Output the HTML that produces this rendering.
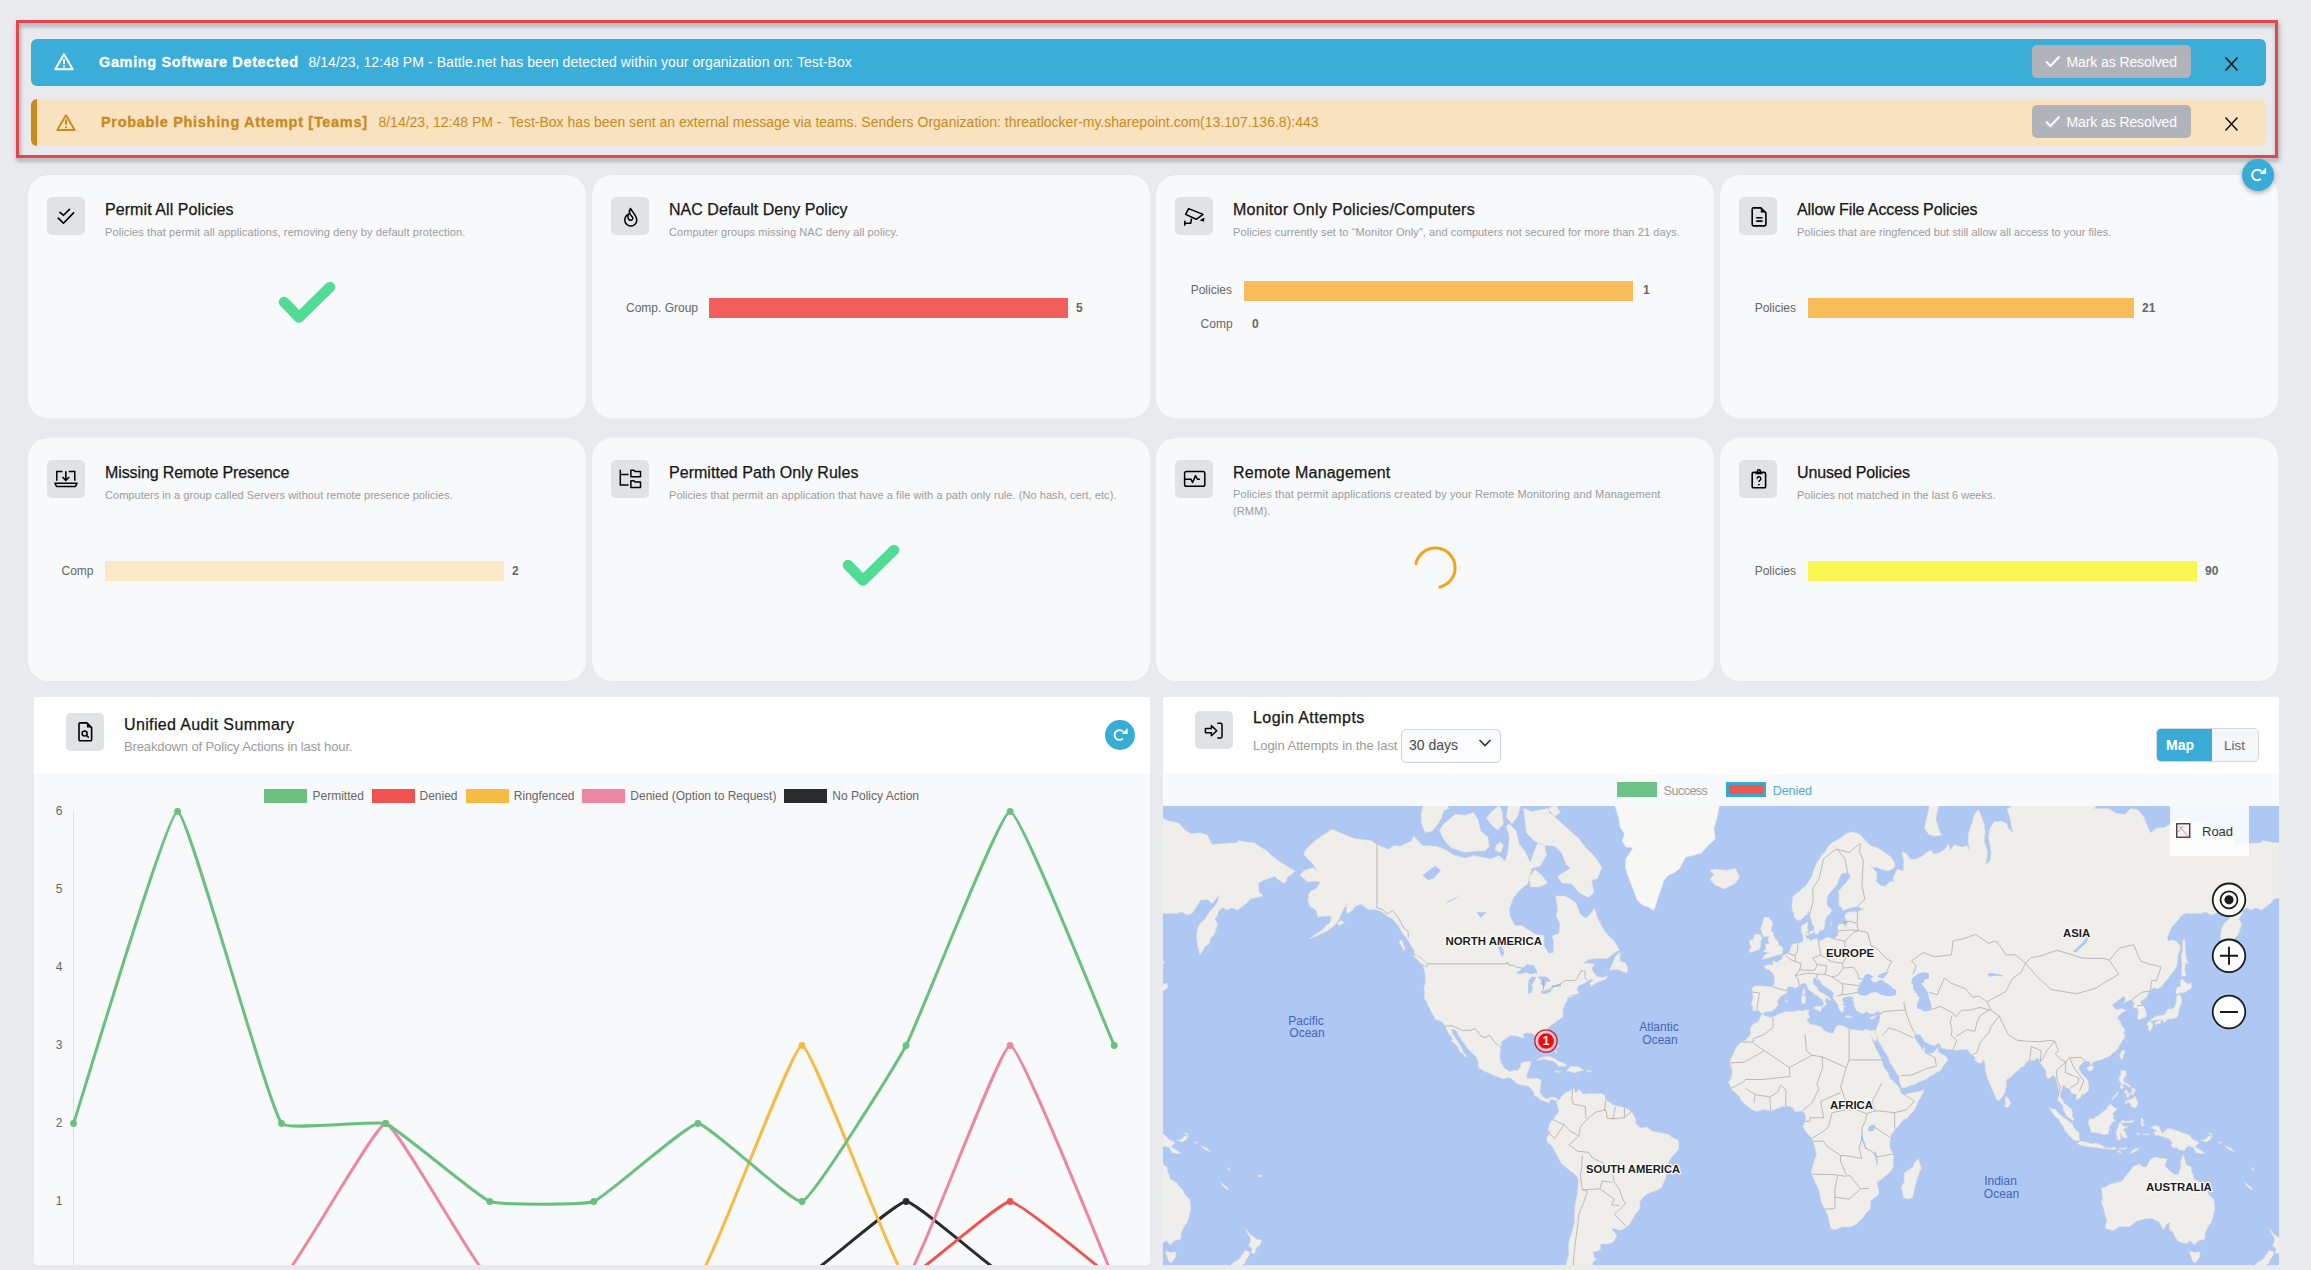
<!DOCTYPE html>
<html><head><meta charset="utf-8"><title>Dashboard</title>
<style>
*{box-sizing:border-box;margin:0;padding:0}
html,body{width:2311px;height:1270px;overflow:hidden;background:#e9eaee;font-family:'Liberation Sans', Arial, Helvetica, sans-serif}
.abs{position:absolute}
.t{position:absolute;white-space:nowrap}
.card{position:absolute;width:558px;height:243px;border-radius:20px;background:#f8f9fb;box-shadow:0 0 1px rgba(0,0,0,.06)}
.ib{position:absolute;width:38px;height:38px;border-radius:5px;background:#e1e2e4}
.btn{position:absolute;left:2032px;width:159px;height:33px;border-radius:5px;background:#b0b3b9;color:#fff}
</style></head><body>
<!-- alerts -->
<div class="abs" style="left:31px;top:39px;width:2235px;height:47px;border-radius:6px;background:#3aadd8"></div>
<div class="abs" style="left:31px;top:99px;width:2235px;height:47px;border-radius:6px;background:#f8e2bf;border-left:6px solid #c88a1d"></div>
<svg class="abs" style="left:52px;top:51px" width="24" height="21" viewBox="0 0 24 21"><path d="M12 3.2L3.3 18.2h17.4z" fill="none" stroke="#fff" stroke-width="2" stroke-linejoin="round"/><path d="M12 8v5.2" stroke="#fff" stroke-width="2"/><circle cx="12" cy="15.6" r="1.1" fill="#fff"/></svg>
<svg class="abs" style="left:54px;top:112px" width="24" height="21" viewBox="0 0 24 21"><path d="M12 3.2L3.3 18h17.4z" fill="none" stroke="#c98a1d" stroke-width="1.9" stroke-linejoin="round"/><path d="M12 7.5v5.2" stroke="#c98a1d" stroke-width="2"/><circle cx="12" cy="15.3" r="1.1" fill="#c98a1d"/></svg>
<div class="t" style="left:99px;top:52.8px;font-size:14.5px;line-height:18px;color:#fff;font-weight:700;letter-spacing:0.63px;-webkit-text-stroke:0.3px #fff;">Gaming Software Detected</div>
<div class="t" style="left:308.4px;top:52.9px;font-size:14px;line-height:18px;color:#fff;font-weight:400;letter-spacing:0.07px;">8/14/23, 12:48 PM - Battle.net has been detected within your organization on: Test-Box</div>
<div class="t" style="left:101px;top:112.5px;font-size:14.5px;line-height:18px;color:#c98a1d;font-weight:700;letter-spacing:0.684px;-webkit-text-stroke:0.3px #c98a1d;">Probable Phishing Attempt [Teams]</div>
<div class="t" style="left:378.4px;top:112.6px;font-size:14px;line-height:18px;color:#c98a1d;font-weight:400;letter-spacing:0.01px;">8/14/23, 12:48 PM -&nbsp; Test-Box has been sent an external message via teams. Senders Organization: threatlocker-my.sharepoint.com(13.107.136.8):443</div>
<div class="btn" style="top:45px"></div>
<div class="btn" style="top:105px"></div>
<svg class="abs" style="left:2044px;top:54px" width="18" height="15"><path d="M2 7.5l4.5 4.5 9-9.5" fill="none" stroke="#fff" stroke-width="2"/></svg>
<svg class="abs" style="left:2044px;top:114px" width="18" height="15"><path d="M2 7.5l4.5 4.5 9-9.5" fill="none" stroke="#fff" stroke-width="2"/></svg>
<div class="t" style="left:2066.5px;top:53.1px;font-size:14px;line-height:18px;color:#fff;font-weight:400;letter-spacing:-0.1px;">Mark as Resolved</div>
<div class="t" style="left:2066.5px;top:113.1px;font-size:14px;line-height:18px;color:#fff;font-weight:400;letter-spacing:-0.1px;">Mark as Resolved</div>
<svg class="abs" style="left:2224px;top:56px" width="15" height="16"><path d="M1.5 1.5l12 13M13.5 1.5l-12 13" stroke="#1a1a1a" stroke-width="1.6"/></svg>
<svg class="abs" style="left:2224px;top:116px" width="15" height="16"><path d="M1.5 1.5l12 13M13.5 1.5l-12 13" stroke="#1a1a1a" stroke-width="1.6"/></svg>
<div class="abs" style="left:16px;top:20px;width:2262px;height:138px;border:3px solid #e5454b;filter:drop-shadow(1px 3px 2px rgba(0,0,0,.35))"></div>

<div class="card" style="left:28px;top:175px"></div>
<div class="ib" style="left:47px;top:197px"><svg width="38" height="38" viewBox="0 0 38 38"><path d="M13 15.3l3.5 3 6-5.9M11.2 21.2l5.2 5 10.2-10.3" fill="none" stroke="#000" stroke-width="1.6" stroke-linecap="round" stroke-linejoin="round"/></svg></div>
<div class="t" style="left:105px;top:199.5px;font-size:16px;line-height:20px;color:#161616;font-weight:400;letter-spacing:0.075px;-webkit-text-stroke:0.25px #161616;">Permit All Policies</div>
<div class="t" style="left:105px;top:224.5px;font-size:11px;line-height:14px;color:#9b9b9b;font-weight:400;letter-spacing:0.118px;">Policies that permit all applications, removing deny by default protection.</div>
<div class="card" style="left:592px;top:175px"></div>
<div class="ib" style="left:611px;top:197px"><svg width="38" height="38" viewBox="0 0 38 38"><path d="M19.5 11.5c-1.3 1.8-1.5 3.7-.6 5.3.8 1.5 2 2.4 2.6 3.4.7 1.2.1 2.8-1.3 3.1-1.6.3-2.8-.9-3.2-2.6-.3-1.3-.1-2.6.4-3.6-2.3 1.3-3.6 3.5-3.6 5.8 0 3.4 2.6 6 6 6s6-2.6 6-6c0-3.6-3-6.3-6.3-11.4z" fill="none" stroke="#000" stroke-width="1.5" stroke-linejoin="round"/></svg></div>
<div class="t" style="left:669px;top:199.5px;font-size:16px;line-height:20px;color:#161616;font-weight:400;letter-spacing:0.03px;-webkit-text-stroke:0.25px #161616;">NAC Default Deny Policy</div>
<div class="t" style="left:669px;top:224.5px;font-size:11px;line-height:14px;color:#9b9b9b;font-weight:400;letter-spacing:0.079px;">Computer groups missing NAC deny all policy.</div>
<div class="card" style="left:1156px;top:175px"></div>
<div class="ib" style="left:1175px;top:197px"><svg width="38" height="38" viewBox="0 0 38 38"><path d="M13.6 11.6L28 17.4L21.3 22.3L10.6 17.4Z" fill="none" stroke="#000" stroke-width="1.5" stroke-linejoin="round"/><path d="M24.6 23.3l4.9-2.9-.6 4.3z" fill="#000"/><path d="M16.6 21.5l-.9 4.7h-5.9M9.8 23.8v5" fill="none" stroke="#000" stroke-width="1.5"/></svg></div>
<div class="t" style="left:1233px;top:199.5px;font-size:16px;line-height:20px;color:#161616;font-weight:400;letter-spacing:0.291px;-webkit-text-stroke:0.25px #161616;">Monitor Only Policies/Computers</div>
<div class="t" style="left:1233px;top:224.5px;font-size:11px;line-height:14px;color:#9b9b9b;font-weight:400;letter-spacing:0.097px;">Policies currently set to “Monitor Only”, and computers not secured for more than 21 days.</div>
<div class="card" style="left:1720px;top:175px"></div>
<div class="ib" style="left:1739px;top:197px"><svg width="38" height="38" viewBox="0 0 38 38"><path d="M14.5 10.9h7.3l5.1 4.9v11.8a1.3 1.3 0 0 1-1.3 1.3h-11.1a1.3 1.3 0 0 1-1.3-1.3v-15.4a1.3 1.3 0 0 1 1.3-1.3z" fill="none" stroke="#000" stroke-width="1.6" stroke-linejoin="round"/><path d="M21.8 10.9v4.7h5.1z" fill="#000"/><path d="M17.2 20.7h6.3M17.2 24.1h6.3" stroke="#000" stroke-width="1.6"/></svg></div>
<div class="t" style="left:1797px;top:199.5px;font-size:16px;line-height:20px;color:#161616;font-weight:400;letter-spacing:-0.107px;-webkit-text-stroke:0.25px #161616;">Allow File Access Policies</div>
<div class="t" style="left:1797px;top:224.5px;font-size:11px;line-height:14px;color:#9b9b9b;font-weight:400;letter-spacing:0.036px;">Policies that are ringfenced but still allow all access to your files.</div>
<div class="card" style="left:28px;top:438px"></div>
<div class="ib" style="left:47px;top:460px"><svg width="38" height="38" viewBox="0 0 38 38"><path d="M15.5 11.5H9.8V20.8M21.8 11.5H27.8V20.8" fill="none" stroke="#000" stroke-width="1.5"/><path d="M18.8 11.3V20M15.4 17l3.4 3.4 3.4-3.4" fill="none" stroke="#000" stroke-width="1.6"/><path d="M7.9 23.2H30.1L28.5 26.4H9.5Z" fill="none" stroke="#000" stroke-width="1.5" stroke-linejoin="round"/></svg></div>
<div class="t" style="left:105px;top:462.5px;font-size:16px;line-height:20px;color:#161616;font-weight:400;letter-spacing:-0.107px;-webkit-text-stroke:0.25px #161616;">Missing Remote Presence</div>
<div class="t" style="left:105px;top:487.5px;font-size:11px;line-height:14px;color:#9b9b9b;font-weight:400;letter-spacing:0.043px;">Computers in a group called Servers without remote presence policies.</div>
<div class="card" style="left:592px;top:438px"></div>
<div class="ib" style="left:611px;top:460px"><svg width="38" height="38" viewBox="0 0 38 38"><path d="M9.3 9.8V25.1H17.6M9.3 14.4H17.6" fill="none" stroke="#000" stroke-width="1.5"/><path d="M19.9 10.2h3l1.2 1.3h5.4v5.3h-9.6z" fill="none" stroke="#000" stroke-width="1.5" stroke-linejoin="round"/><path d="M19.9 20.8h3l1.2 1.3h5.4v5.3h-9.6z" fill="none" stroke="#000" stroke-width="1.5" stroke-linejoin="round"/></svg></div>
<div class="t" style="left:669px;top:462.5px;font-size:16px;line-height:20px;color:#161616;font-weight:400;letter-spacing:0.036px;-webkit-text-stroke:0.25px #161616;">Permitted Path Only Rules</div>
<div class="t" style="left:669px;top:487.5px;font-size:11px;line-height:14px;color:#9b9b9b;font-weight:400;letter-spacing:0.056px;">Policies that permit an application that have a file with a path only rule. (No hash, cert, etc).</div>
<div class="card" style="left:1156px;top:438px"></div>
<div class="ib" style="left:1175px;top:460px"><svg width="38" height="38" viewBox="0 0 38 38"><rect x="9.6" y="11.4" width="20.2" height="14.8" rx="1.8" fill="none" stroke="#000" stroke-width="1.5"/><path d="M9.6 19.2H15.9L17.6 22.5L20.5 15.6L22.4 19.2H24.9" fill="none" stroke="#000" stroke-width="1.5" stroke-linejoin="round"/></svg></div>
<div class="t" style="left:1233px;top:462.5px;font-size:16px;line-height:20px;color:#161616;font-weight:400;letter-spacing:0.215px;-webkit-text-stroke:0.25px #161616;">Remote Management</div>
<div class="t" style="left:1233px;top:486px;font-size:11px;line-height:17px;color:#9b9b9b;letter-spacing:0.121px">Policies that permit applications created by your Remote Monitoring and Management<br>(RMM).</div>
<div class="card" style="left:1720px;top:438px"></div>
<div class="ib" style="left:1739px;top:460px"><svg width="38" height="38" viewBox="0 0 38 38"><rect x="13.2" y="12.4" width="13.4" height="15.4" rx="1.4" fill="none" stroke="#000" stroke-width="1.6"/><path d="M16.5 12.1h6.8v2.2h-6.8z" fill="#000"/><circle cx="19.9" cy="11.3" r="1.6" fill="none" stroke="#000" stroke-width="1.4"/><path d="M18.1 18.7a1.9 1.9 0 1 1 2.7 1.7c-.7.4-.9.8-.9 1.7" fill="none" stroke="#000" stroke-width="1.4"/><circle cx="19.9" cy="24.6" r=".95" fill="#000"/></svg></div>
<div class="t" style="left:1797px;top:462.5px;font-size:16px;line-height:20px;color:#161616;font-weight:400;letter-spacing:-0.124px;-webkit-text-stroke:0.25px #161616;">Unused Policies</div>
<div class="t" style="left:1797px;top:487.5px;font-size:11px;line-height:14px;color:#9b9b9b;font-weight:400;letter-spacing:0.01px;">Policies not matched in the last 6 weeks.</div>
<div class="t" style="right:1613px;top:300.6px;font-size:12px;line-height:15px;color:#666;font-weight:400;text-align:right">Comp. Group</div>
<div class="abs" style="left:709px;top:298px;width:359px;height:20px;background:#f25e5c"></div>
<div class="t" style="left:1076px;top:300.6px;font-size:12px;line-height:15px;color:#666;font-weight:700;">5</div>
<div class="t" style="right:1079px;top:283.4px;font-size:12px;line-height:15px;color:#666;font-weight:400;text-align:right">Policies</div>
<div class="abs" style="left:1243.5px;top:281px;width:389.5px;height:19.5px;background:#f8bd59"></div>
<div class="t" style="left:1643px;top:283.4px;font-size:12px;line-height:15px;color:#666;font-weight:700;">1</div>
<div class="t" style="right:1078.4px;top:316.6px;font-size:12px;line-height:15px;color:#666;font-weight:400;text-align:right">Comp</div>
<div class="t" style="left:1252px;top:316.6px;font-size:12px;line-height:15px;color:#666;font-weight:700;">0</div>
<div class="t" style="right:515px;top:300.6px;font-size:12px;line-height:15px;color:#666;font-weight:400;text-align:right">Policies</div>
<div class="abs" style="left:1807.6px;top:298px;width:326.8000000000002px;height:20px;background:#f8bd59"></div>
<div class="t" style="left:2142px;top:300.6px;font-size:12px;line-height:15px;color:#666;font-weight:700;">21</div>
<div class="t" style="right:2217.5px;top:563.6px;font-size:12px;line-height:15px;color:#666;font-weight:400;text-align:right">Comp</div>
<div class="abs" style="left:104.7px;top:561px;width:399.7px;height:20px;background:#fbe8c6"></div>
<div class="t" style="left:512px;top:563.6px;font-size:12px;line-height:15px;color:#666;font-weight:700;">2</div>
<div class="t" style="right:515px;top:563.6px;font-size:12px;line-height:15px;color:#666;font-weight:400;text-align:right">Policies</div>
<div class="abs" style="left:1807.6px;top:561px;width:389.4000000000001px;height:20px;background:#fbf752"></div>
<div class="t" style="left:2205px;top:563.6px;font-size:12px;line-height:15px;color:#666;font-weight:700;">90</div>
<svg class="abs" style="left:28px;top:175px" width="558" height="243"><path d="M256 127L271 142.5L302 112" fill="none" stroke="#51dc95" stroke-width="10.5" stroke-linecap="round" stroke-linejoin="round"/></svg>
<svg class="abs" style="left:592px;top:438px" width="558" height="243"><path d="M256 127L271 142.5L302 112" fill="none" stroke="#51dc95" stroke-width="10.5" stroke-linecap="round" stroke-linejoin="round"/></svg>
<svg class="abs" style="left:1156px;top:438px" width="558" height="243"><path d="M259.93,125.68A19.8,19.8 0 1 1 283.75,149.09" fill="none" stroke="#f2a51a" stroke-width="3" stroke-linecap="round"/></svg>
<div class="abs" style="left:2242.0px;top:159.0px;width:32px;height:32px;border-radius:50%;background:#39abd7;box-shadow:0 2px 5px rgba(0,0,0,.3);"><svg width="32" height="32" viewBox="-16.50 -16.50 33.00 33.00"><path d="M3.41,-3.61A5.4,5.4 0 1 0 3.08,3.95" fill="none" stroke="#fff" stroke-width="2"/><path d="M1.6 -1.0H8.4V-7.8z" fill="#fff"/></svg></div>

<!-- bottom left panel -->
<div class="abs" style="left:34px;top:697px;width:1116px;height:568px;border-radius:3px;background:#f8f9fb;overflow:hidden">
 <div class="abs" style="left:0;top:0;width:1116px;height:77px;background:#fff"></div>
</div>
<div class="ib" style="left:66px;top:713px"><svg width="38" height="38" viewBox="0 0 38 38"><path d="M14.2 9.9h6.7l4.7 4.6v12.1a1.2 1.2 0 0 1-1.2 1.2h-10.2a1.2 1.2 0 0 1-1.2-1.2v-15.5a1.2 1.2 0 0 1 1.2-1.2z" fill="none" stroke="#000" stroke-width="1.6" stroke-linejoin="round"/><path d="M20.9 9.9v4.6h4.7z" fill="#000"/><circle cx="18.6" cy="20.4" r="2.5" fill="none" stroke="#000" stroke-width="1.5"/><path d="M20.4 22.3l2.4 2.3" stroke="#000" stroke-width="1.5"/></svg></div>
<div class="t" style="left:124px;top:714.5px;font-size:16px;line-height:20px;color:#161616;font-weight:400;letter-spacing:0.363px;-webkit-text-stroke:0.25px #161616;">Unified Audit Summary</div>
<div class="t" style="left:124px;top:738.5px;font-size:13px;line-height:16px;color:#9b9b9b;font-weight:400;letter-spacing:-0.123px;">Breakdown of Policy Actions in last hour.</div>
<div class="abs" style="left:1105.0px;top:720.4px;width:30px;height:30px;border-radius:50%;background:#39abd7;"><svg width="30" height="30" viewBox="-16.50 -16.50 33.00 33.00"><path d="M3.41,-3.61A5.4,5.4 0 1 0 3.08,3.95" fill="none" stroke="#fff" stroke-width="2"/><path d="M1.6 -1.0H8.4V-7.8z" fill="#fff"/></svg></div>
<div class="abs" style="left:264px;top:789px;width:43px;height:14px;background:#6bbf7f"></div>
<div class="t" style="left:312.5px;top:788.8px;font-size:12px;line-height:15px;color:#666;font-weight:400;">Permitted</div>
<div class="abs" style="left:372px;top:789px;width:43px;height:14px;background:#ef5350"></div>
<div class="t" style="left:419.5px;top:788.8px;font-size:12px;line-height:15px;color:#666;font-weight:400;">Denied</div>
<div class="abs" style="left:466px;top:789px;width:43px;height:14px;background:#f6bb42"></div>
<div class="t" style="left:513.8px;top:788.8px;font-size:12px;line-height:15px;color:#666;font-weight:400;">Ringfenced</div>
<div class="abs" style="left:582px;top:789px;width:43px;height:14px;background:#ec87a2"></div>
<div class="t" style="left:630.3px;top:788.8px;font-size:12px;line-height:15px;color:#666;font-weight:400;">Denied (Option to Request)</div>
<div class="abs" style="left:784px;top:789px;width:43px;height:14px;background:#2b2b2b"></div>
<div class="t" style="left:832.3px;top:788.8px;font-size:12px;line-height:15px;color:#666;font-weight:400;">No Policy Action</div>
<div class="t" style="right:2248.5px;top:803.6px;font-size:12px;line-height:15px;color:#666;font-weight:400;text-align:right">6</div>
<div class="t" style="right:2248.5px;top:881.6px;font-size:12px;line-height:15px;color:#666;font-weight:400;text-align:right">5</div>
<div class="t" style="right:2248.5px;top:959.6px;font-size:12px;line-height:15px;color:#666;font-weight:400;text-align:right">4</div>
<div class="t" style="right:2248.5px;top:1037.6px;font-size:12px;line-height:15px;color:#666;font-weight:400;text-align:right">3</div>
<div class="t" style="right:2248.5px;top:1115.6px;font-size:12px;line-height:15px;color:#666;font-weight:400;text-align:right">2</div>
<div class="t" style="right:2248.5px;top:1193.6px;font-size:12px;line-height:15px;color:#666;font-weight:400;text-align:right">1</div>
<svg class="abs" style="left:0;top:0;clip-path:inset(774px 1161px 5px 34px)" width="2311" height="1270">
<path d="M73.5 811.5V1265" stroke="#dedede" stroke-width="1"/>
<path d="M73.5,1279.5 C83.9,1279.5 167.2,1279.5 177.6,1279.5 C188.0,1279.5 271.2,1279.5 281.6,1279.5 C292.0,1279.5 375.3,1279.5 385.7,1279.5 C396.1,1279.5 479.4,1279.5 489.8,1279.5 C500.2,1279.5 583.4,1279.5 593.8,1279.5 C604.3,1279.5 687.5,1279.5 697.9,1279.5 C708.3,1279.5 792.7,1279.5 802.0,1279.5 C813.6,1275.2 895.7,1201.5 906.1,1201.5 C916.5,1201.5 998.6,1275.2 1010.1,1279.5 C1019.4,1279.5 1103.8,1279.5 1114.2,1279.5" fill="none" stroke="#2b2b2b" stroke-width="3"/>
<circle cx="73.5" cy="1279.5" r="3.4" fill="#2b2b2b"/>
<circle cx="177.6" cy="1279.5" r="3.4" fill="#2b2b2b"/>
<circle cx="281.6" cy="1279.5" r="3.4" fill="#2b2b2b"/>
<circle cx="385.7" cy="1279.5" r="3.4" fill="#2b2b2b"/>
<circle cx="489.8" cy="1279.5" r="3.4" fill="#2b2b2b"/>
<circle cx="593.8" cy="1279.5" r="3.4" fill="#2b2b2b"/>
<circle cx="697.9" cy="1279.5" r="3.4" fill="#2b2b2b"/>
<circle cx="802.0" cy="1279.5" r="3.4" fill="#2b2b2b"/>
<circle cx="906.1" cy="1201.5" r="3.4" fill="#2b2b2b"/>
<circle cx="1010.1" cy="1279.5" r="3.4" fill="#2b2b2b"/>
<circle cx="1114.2" cy="1279.5" r="3.4" fill="#2b2b2b"/>
<path d="M73.5,1279.5 C83.9,1279.5 167.2,1279.5 177.6,1279.5 C188.0,1279.5 274.2,1279.5 281.6,1279.5 C295.0,1269.5 375.3,1123.5 385.7,1123.5 C396.1,1123.5 476.4,1269.5 489.8,1279.5 C497.2,1279.5 583.4,1279.5 593.8,1279.5 C604.3,1279.5 687.5,1279.5 697.9,1279.5 C708.3,1279.5 791.6,1279.5 802.0,1279.5 C812.4,1279.5 900.0,1279.5 906.1,1279.5 C920.9,1262.9 999.7,1045.5 1010.1,1045.5 C1020.5,1045.5 1103.8,1256.1 1114.2,1279.5" fill="none" stroke="#ec87a2" stroke-width="3"/>
<circle cx="73.5" cy="1279.5" r="3.4" fill="#ec87a2"/>
<circle cx="177.6" cy="1279.5" r="3.4" fill="#ec87a2"/>
<circle cx="281.6" cy="1279.5" r="3.4" fill="#ec87a2"/>
<circle cx="385.7" cy="1123.5" r="3.4" fill="#ec87a2"/>
<circle cx="489.8" cy="1279.5" r="3.4" fill="#ec87a2"/>
<circle cx="593.8" cy="1279.5" r="3.4" fill="#ec87a2"/>
<circle cx="697.9" cy="1279.5" r="3.4" fill="#ec87a2"/>
<circle cx="802.0" cy="1279.5" r="3.4" fill="#ec87a2"/>
<circle cx="906.1" cy="1279.5" r="3.4" fill="#ec87a2"/>
<circle cx="1010.1" cy="1045.5" r="3.4" fill="#ec87a2"/>
<circle cx="1114.2" cy="1279.5" r="3.4" fill="#ec87a2"/>
<path d="M73.5,1279.5 C83.9,1279.5 167.2,1279.5 177.6,1279.5 C188.0,1279.5 271.2,1279.5 281.6,1279.5 C292.0,1279.5 375.3,1279.5 385.7,1279.5 C396.1,1279.5 479.4,1279.5 489.8,1279.5 C500.2,1279.5 583.4,1279.5 593.8,1279.5 C604.3,1279.5 691.9,1279.5 697.9,1279.5 C712.7,1262.9 791.6,1045.5 802.0,1045.5 C812.4,1045.5 891.3,1262.9 906.1,1279.5 C912.1,1279.5 999.7,1279.5 1010.1,1279.5 C1020.5,1279.5 1103.8,1279.5 1114.2,1279.5" fill="none" stroke="#f6bb42" stroke-width="3"/>
<circle cx="73.5" cy="1279.5" r="3.4" fill="#f6bb42"/>
<circle cx="177.6" cy="1279.5" r="3.4" fill="#f6bb42"/>
<circle cx="281.6" cy="1279.5" r="3.4" fill="#f6bb42"/>
<circle cx="385.7" cy="1279.5" r="3.4" fill="#f6bb42"/>
<circle cx="489.8" cy="1279.5" r="3.4" fill="#f6bb42"/>
<circle cx="593.8" cy="1279.5" r="3.4" fill="#f6bb42"/>
<circle cx="697.9" cy="1279.5" r="3.4" fill="#f6bb42"/>
<circle cx="802.0" cy="1045.5" r="3.4" fill="#f6bb42"/>
<circle cx="906.1" cy="1279.5" r="3.4" fill="#f6bb42"/>
<circle cx="1010.1" cy="1279.5" r="3.4" fill="#f6bb42"/>
<circle cx="1114.2" cy="1279.5" r="3.4" fill="#f6bb42"/>
<path d="M73.5,1279.5 C83.9,1279.5 167.2,1279.5 177.6,1279.5 C188.0,1279.5 271.2,1279.5 281.6,1279.5 C292.0,1279.5 375.3,1279.5 385.7,1279.5 C396.1,1279.5 479.4,1279.5 489.8,1279.5 C500.2,1279.5 583.4,1279.5 593.8,1279.5 C604.3,1279.5 687.5,1279.5 697.9,1279.5 C708.3,1279.5 791.6,1279.5 802.0,1279.5 C812.4,1279.5 896.8,1279.5 906.1,1279.5 C917.6,1275.2 999.7,1201.5 1010.1,1201.5 C1020.5,1201.5 1103.8,1271.7 1114.2,1279.5" fill="none" stroke="#ef5350" stroke-width="3"/>
<circle cx="73.5" cy="1279.5" r="3.4" fill="#ef5350"/>
<circle cx="177.6" cy="1279.5" r="3.4" fill="#ef5350"/>
<circle cx="281.6" cy="1279.5" r="3.4" fill="#ef5350"/>
<circle cx="385.7" cy="1279.5" r="3.4" fill="#ef5350"/>
<circle cx="489.8" cy="1279.5" r="3.4" fill="#ef5350"/>
<circle cx="593.8" cy="1279.5" r="3.4" fill="#ef5350"/>
<circle cx="697.9" cy="1279.5" r="3.4" fill="#ef5350"/>
<circle cx="802.0" cy="1279.5" r="3.4" fill="#ef5350"/>
<circle cx="906.1" cy="1279.5" r="3.4" fill="#ef5350"/>
<circle cx="1010.1" cy="1201.5" r="3.4" fill="#ef5350"/>
<circle cx="1114.2" cy="1279.5" r="3.4" fill="#ef5350"/>
<path d="M73.5,1123.5 C83.9,1092.3 167.2,811.5 177.6,811.5 C188.0,811.5 265.8,1099.8 281.6,1123.5 C286.6,1131.0 376.5,1120.0 385.7,1123.5 C397.3,1127.8 478.2,1197.2 489.8,1201.5 C499.0,1205.0 584.6,1205.0 593.8,1201.5 C605.4,1197.2 687.5,1123.5 697.9,1123.5 C708.3,1123.5 793.5,1204.7 802.0,1201.5 C814.3,1196.9 897.3,1062.0 906.1,1045.5 C918.1,1023.0 999.7,811.5 1010.1,811.5 C1020.5,811.5 1103.8,1022.1 1114.2,1045.5" fill="none" stroke="#6bbf7f" stroke-width="3"/>
<circle cx="73.5" cy="1123.5" r="3.4" fill="#6bbf7f"/>
<circle cx="177.6" cy="811.5" r="3.4" fill="#6bbf7f"/>
<circle cx="281.6" cy="1123.5" r="3.4" fill="#6bbf7f"/>
<circle cx="385.7" cy="1123.5" r="3.4" fill="#6bbf7f"/>
<circle cx="489.8" cy="1201.5" r="3.4" fill="#6bbf7f"/>
<circle cx="593.8" cy="1201.5" r="3.4" fill="#6bbf7f"/>
<circle cx="697.9" cy="1123.5" r="3.4" fill="#6bbf7f"/>
<circle cx="802.0" cy="1201.5" r="3.4" fill="#6bbf7f"/>
<circle cx="906.1" cy="1045.5" r="3.4" fill="#6bbf7f"/>
<circle cx="1010.1" cy="811.5" r="3.4" fill="#6bbf7f"/>
<circle cx="1114.2" cy="1045.5" r="3.4" fill="#6bbf7f"/>
</svg>

<!-- bottom right panel -->
<div class="abs" style="left:1163px;top:697px;width:1116px;height:568px;border-radius:3px;background:#f8f9fb;overflow:hidden">
 <div class="abs" style="left:0;top:0;width:1116px;height:77px;background:#fff"></div>
</div>
<div class="ib" style="left:1195px;top:711px"><svg width="38" height="38" viewBox="0 0 38 38"><path d="M10.4 17.6h6v-3l5.4 5.1-5.4 5.1v-3h-6z" fill="none" stroke="#000" stroke-width="1.5" stroke-linejoin="round"/><path d="M22.4 12.3h3a1.6 1.6 0 0 1 1.6 1.6v11.6a1.6 1.6 0 0 1-1.6 1.6h-3" fill="none" stroke="#000" stroke-width="1.5"/></svg></div>
<div class="t" style="left:1253px;top:707.5px;font-size:16px;line-height:20px;color:#161616;font-weight:400;letter-spacing:0.42px;-webkit-text-stroke:0.25px #161616;">Login Attempts</div>
<div class="t" style="left:1253px;top:737.5px;font-size:13px;line-height:16px;color:#9b9b9b;font-weight:400;letter-spacing:-0.031px;">Login Attempts in the last</div>
<div class="abs" style="left:1401px;top:729px;width:100px;height:34px;border:1px solid #cfd2d6;border-radius:5px;background:#fafbfc"></div>
<div class="t" style="left:1409px;top:736.1px;font-size:14px;line-height:18px;color:#4a4a4a;font-weight:400;">30 days</div>
<svg class="abs" style="left:1478px;top:738px" width="14" height="10"><path d="M1.5 2l5.5 5.5 5.5-5.5" fill="none" stroke="#333" stroke-width="1.6"/></svg>
<div class="abs" style="left:2156px;top:728px;width:103px;height:34px;border:1px solid #d5d7db;border-radius:5px;background:#f5f6f8;overflow:hidden">
 <div class="abs" style="left:-1px;top:-1px;width:56px;height:34px;background:#3aabd7"></div>
</div>
<div class="t" style="left:2166px;top:736.1px;font-size:14px;line-height:18px;color:#fff;font-weight:700;">Map</div>
<div class="t" style="left:2224px;top:736.8px;font-size:13.5px;line-height:17px;color:#666;font-weight:400;">List</div>
<div class="abs" style="left:1617px;top:782px;width:40px;height:15px;background:#6cc287"></div>
<div class="t" style="left:1663.6px;top:782.6px;font-size:12.6px;line-height:16px;color:#9a9a9a;font-weight:400;letter-spacing:-0.55px;">Success</div>
<div class="abs" style="left:1726px;top:782px;width:40px;height:15px;background:#f05650;border:3px solid #3aa7d5"></div>
<div class="t" style="left:1772.7px;top:782.6px;font-size:12.6px;line-height:16px;color:#56a8d6;font-weight:400;letter-spacing:-0.1px;">Denied</div>
<div class="abs" style="left:1163px;top:806px;width:1116px;height:459px;overflow:hidden;background:#aec7f3">
<svg width="1116" height="459" style="display:block;font-family:'Liberation Sans', Arial, Helvetica, sans-serif">
<path d="M136.8,68.5L141.4,64.3L149.9,61.5L154.2,65.0L149.1,57.1L140.5,48.5L142.3,44.2L151.4,35.3L154.5,32.8L169.0,23.2L181.2,28.5L192.6,32.8L208.2,34.4L213.9,38.6L225.3,43.4L231.0,39.4L236.7,40.2L248.1,35.3L250.9,30.2L259.4,39.4L273.7,40.2L282.2,43.4L290.7,48.9L302.1,51.9L310.6,49.6L319.2,51.2L327.7,52.7L336.2,49.6L341.9,54.9L344.8,47.3L346.2,31.1L343.4,19.6L346.2,17.8L353.3,25.0L356.2,37.7L361.8,45.0L367.5,56.4L370.4,47.3L374.6,36.9L381.8,39.4L383.5,48.9L377.5,60.0L369.0,62.2L364.7,77.9L357.0,83.7L350.5,91.7L346.2,103.5L347.1,110.2L351.9,119.3L359.0,119.8L367.5,125.0L373.2,128.5L380.9,129.5L381.2,140.1L386.0,147.6L390.3,146.6L390.6,134.9L388.9,130.0L396.0,127.5L396.8,117.2L393.1,110.2L394.6,103.5L392.6,89.9L401.7,89.9L407.4,92.9L413.0,97.1L417.3,108.0L423.0,112.4L428.7,106.3L431.5,101.8L434.4,111.8L440.1,122.4L444.3,128.5L451.4,134.9L456.6,143.9L451.4,147.1L444.3,152.5L433.0,152.5L425.8,153.4L420.2,157.3L427.3,157.3L432.1,158.6L428.7,162.1L430.7,166.3L434.4,170.4L440.1,171.6L444.3,169.6L444.9,170.8L441.5,173.7L434.4,176.1L427.8,180.4L426.7,176.9L431.5,173.2L425.8,174.1L423.0,176.5L418.7,178.4L415.3,180.0L413.9,183.5L415.9,187.0L414.5,188.1L411.6,188.5L407.4,189.6L404.5,191.5L404.2,194.9L402.0,197.8L401.4,200.0L399.7,204.0L400.2,211.0L397.4,212.7L393.4,215.5L389.7,217.9L387.7,219.6L384.3,222.6L383.5,227.6L385.7,233.8L387.4,239.2L387.2,242.1L386.3,244.0L384.3,244.3L382.3,241.2L380.0,236.7L379.8,235.4L379.5,232.2L376.9,228.9L374.6,228.6L372.1,229.6L369.0,227.3L364.7,227.3L364.4,226.6L360.4,227.9L361.0,231.5L361.3,231.8L357.6,231.5L353.3,229.9L348.2,229.6L345.3,230.9L344.8,231.2L340.5,234.1L338.2,236.4L338.0,241.5L337.1,246.2L336.8,252.4L338.2,257.0L341.1,262.1L341.6,262.4L344.8,264.2L346.2,265.6L351.9,264.2L354.7,264.5L357.6,260.6L357.9,257.0L361.8,255.8L366.1,255.5L368.1,255.5L367.5,259.1L365.5,264.5L364.1,267.5L363.8,272.0L366.1,272.6L370.9,272.3L375.5,272.6L378.3,274.9L377.5,279.3L377.2,283.7L376.9,286.6L378.9,289.5L381.2,291.8L384.6,293.0L387.7,291.2L391.7,291.2L394.8,293.3L396.0,294.4L395.1,295.6L392.6,294.4L392.0,295.3L388.9,292.7L386.3,295.3L386.3,297.3L383.2,295.8L380.3,294.7L377.2,293.8L374.4,290.7L371.2,289.8L370.9,286.6L367.5,282.3L365.8,280.2L360.4,279.3L355.0,278.2L352.5,276.4L348.2,272.3L345.6,271.4L344.2,271.7L340.5,272.9L336.2,271.4L330.8,269.6L326.3,267.2L320.6,265.1L316.6,262.4L314.3,258.8L315.8,258.2L315.2,255.5L312.4,250.2L308.1,245.9L304.1,242.1L300.7,236.7L299.6,235.4L295.9,230.2L293.3,224.6L289.0,222.9L288.5,222.6L289.3,226.9L292.2,231.8L295.0,235.7L297.8,240.2L300.7,246.8L301.3,247.1L303.5,250.2L302.4,251.2L299.8,247.7L296.1,245.2L295.6,241.5L290.2,236.0L287.9,235.1L289.9,232.8L285.6,227.6L283.1,222.6L281.9,220.3L281.6,219.6L279.9,216.5L278.2,215.5L275.9,214.5L272.2,213.6L270.8,210.0L268.3,206.1L266.6,202.9L266.6,201.8L265.1,200.0L262.9,194.5L261.2,192.3L261.7,186.2L260.9,183.1L262.3,176.1L262.3,169.2L260.3,160.4L265.1,161.2L264.6,157.8L260.9,154.3L258.0,151.2L252.3,148.9L250.9,144.3L246.6,137.3L243.8,132.5L239.5,127.5L235.3,119.8L229.6,112.9L223.9,110.2L218.2,105.2L212.5,103.5L205.7,103.5L198.3,98.3L192.6,100.0L189.8,104.0L184.1,108.0L183.2,100.6L186.9,96.5L181.2,101.8L178.4,108.0L175.5,114.5L169.8,120.9L164.2,125.0L158.5,127.5L152.8,130.5L146.2,132.9L151.4,129.0L157.0,125.5L162.7,120.3L167.0,116.7L168.4,110.2L164.2,110.2L159.9,110.2L154.8,111.3L153.3,104.6L147.1,100.6L144.8,94.7L145.7,88.1L147.1,85.6L153.3,82.4L157.0,76.6L157.0,75.9L151.4,75.3L144.5,75.9L140.8,72.6ZM-887.2,68.5L-882.6,64.3L-874.1,61.5L-869.8,65.0L-874.9,57.1L-883.5,48.5L-881.7,44.2L-872.6,35.3L-869.5,32.8L-855.0,23.2L-842.8,28.5L-831.4,32.8L-815.8,34.4L-810.1,38.6L-798.7,43.4L-793.0,39.4L-787.3,40.2L-775.9,35.3L-773.1,30.2L-764.6,39.4L-750.3,40.2L-741.8,43.4L-733.3,48.9L-721.9,51.9L-713.4,49.6L-704.8,51.2L-696.3,52.7L-687.8,49.6L-682.1,54.9L-679.2,47.3L-677.8,31.1L-680.6,19.6L-677.8,17.8L-670.7,25.0L-667.8,37.7L-662.2,45.0L-656.5,56.4L-653.6,47.3L-649.4,36.9L-642.2,39.4L-640.5,48.9L-646.5,60.0L-655.0,62.2L-659.3,77.9L-667.0,83.7L-673.5,91.7L-677.8,103.5L-676.9,110.2L-672.1,119.3L-665.0,119.8L-656.5,125.0L-650.8,128.5L-643.1,129.5L-642.8,140.1L-638.0,147.6L-633.7,146.6L-633.4,134.9L-635.1,130.0L-628.0,127.5L-627.2,117.2L-630.9,110.2L-629.4,103.5L-631.4,89.9L-622.3,89.9L-616.6,92.9L-611.0,97.1L-606.7,108.0L-601.0,112.4L-595.3,106.3L-592.5,101.8L-589.6,111.8L-583.9,122.4L-579.7,128.5L-572.6,134.9L-567.4,143.9L-572.6,147.1L-579.7,152.5L-591.0,152.5L-598.2,153.4L-603.8,157.3L-596.7,157.3L-591.9,158.6L-595.3,162.1L-593.3,166.3L-589.6,170.4L-583.9,171.6L-579.7,169.6L-579.1,170.8L-582.5,173.7L-589.6,176.1L-596.2,180.4L-597.3,176.9L-592.5,173.2L-598.2,174.1L-601.0,176.5L-605.3,178.4L-608.7,180.0L-610.1,183.5L-608.1,187.0L-609.5,188.1L-612.4,188.5L-616.6,189.6L-619.5,191.5L-619.8,194.9L-622.0,197.8L-622.6,200.0L-624.3,204.0L-623.8,211.0L-626.6,212.7L-630.6,215.5L-634.3,217.9L-636.3,219.6L-639.7,222.6L-640.5,227.6L-638.3,233.8L-636.6,239.2L-636.8,242.1L-637.7,244.0L-639.7,244.3L-641.7,241.2L-644.0,236.7L-644.2,235.4L-644.5,232.2L-647.1,228.9L-649.4,228.6L-651.9,229.6L-655.0,227.3L-659.3,227.3L-659.6,226.6L-663.6,227.9L-663.0,231.5L-662.7,231.8L-666.4,231.5L-670.7,229.9L-675.8,229.6L-678.7,230.9L-679.2,231.2L-683.5,234.1L-685.8,236.4L-686.0,241.5L-686.9,246.2L-687.2,252.4L-685.8,257.0L-682.9,262.1L-682.4,262.4L-679.2,264.2L-677.8,265.6L-672.1,264.2L-669.3,264.5L-666.4,260.6L-666.1,257.0L-662.2,255.8L-657.9,255.5L-655.9,255.5L-656.5,259.1L-658.5,264.5L-659.9,267.5L-660.2,272.0L-657.9,272.6L-653.1,272.3L-648.5,272.6L-645.7,274.9L-646.5,279.3L-646.8,283.7L-647.1,286.6L-645.1,289.5L-642.8,291.8L-639.4,293.0L-636.3,291.2L-632.3,291.2L-629.2,293.3L-628.0,294.4L-628.9,295.6L-631.4,294.4L-632.0,295.3L-635.1,292.7L-637.7,295.3L-637.7,297.3L-640.8,295.8L-643.7,294.7L-646.8,293.8L-649.6,290.7L-652.8,289.8L-653.1,286.6L-656.5,282.3L-658.2,280.2L-663.6,279.3L-669.0,278.2L-671.5,276.4L-675.8,272.3L-678.4,271.4L-679.8,271.7L-683.5,272.9L-687.8,271.4L-693.2,269.6L-697.7,267.2L-703.4,265.1L-707.4,262.4L-709.7,258.8L-708.2,258.2L-708.8,255.5L-711.6,250.2L-715.9,245.9L-719.9,242.1L-723.3,236.7L-724.4,235.4L-728.1,230.2L-730.7,224.6L-735.0,222.9L-735.5,222.6L-734.7,226.9L-731.8,231.8L-729.0,235.7L-726.2,240.2L-723.3,246.8L-722.7,247.1L-720.5,250.2L-721.6,251.2L-724.2,247.7L-727.9,245.2L-728.4,241.5L-733.8,236.0L-736.1,235.1L-734.1,232.8L-738.4,227.6L-740.9,222.6L-742.1,220.3L-742.4,219.6L-744.1,216.5L-745.8,215.5L-748.1,214.5L-751.8,213.6L-753.2,210.0L-755.7,206.1L-757.4,202.9L-757.4,201.8L-758.9,200.0L-761.1,194.5L-762.8,192.3L-762.3,186.2L-763.1,183.1L-761.7,176.1L-761.7,169.2L-763.7,160.4L-758.9,161.2L-759.4,157.8L-763.1,154.3L-766.0,151.2L-771.7,148.9L-773.1,144.3L-777.4,137.3L-780.2,132.5L-784.5,127.5L-788.7,119.8L-794.4,112.9L-800.1,110.2L-805.8,105.2L-811.5,103.5L-818.3,103.5L-825.7,98.3L-831.4,100.0L-834.2,104.0L-839.9,108.0L-840.8,100.6L-837.1,96.5L-842.8,101.8L-845.6,108.0L-848.5,114.5L-854.2,120.9L-859.8,125.0L-865.5,127.5L-871.2,130.5L-877.8,132.9L-872.6,129.0L-867.0,125.5L-861.3,120.3L-857.0,116.7L-855.6,110.2L-859.8,110.2L-864.1,110.2L-869.2,111.3L-870.7,104.6L-876.9,100.6L-879.2,94.7L-878.3,88.1L-876.9,85.6L-870.7,82.4L-867.0,76.6L-867.0,75.9L-872.6,75.3L-879.5,75.9L-883.2,72.6ZM1160.8,68.5L1165.4,64.3L1173.9,61.5L1178.2,65.0L1173.1,57.1L1164.5,48.5L1166.3,44.2L1175.4,35.3L1178.5,32.8L1193.0,23.2L1205.2,28.5L1216.6,32.8L1232.2,34.4L1237.9,38.6L1249.3,43.4L1255.0,39.4L1260.7,40.2L1272.1,35.3L1274.9,30.2L1283.4,39.4L1297.7,40.2L1306.2,43.4L1314.7,48.9L1326.1,51.9L1334.6,49.6L1343.2,51.2L1351.7,52.7L1360.2,49.6L1365.9,54.9L1368.8,47.3L1370.2,31.1L1367.4,19.6L1370.2,17.8L1377.3,25.0L1380.2,37.7L1385.8,45.0L1391.5,56.4L1394.4,47.3L1398.6,36.9L1405.8,39.4L1407.5,48.9L1401.5,60.0L1393.0,62.2L1388.7,77.9L1381.0,83.7L1374.5,91.7L1370.2,103.5L1371.1,110.2L1375.9,119.3L1383.0,119.8L1391.5,125.0L1397.2,128.5L1404.9,129.5L1405.2,140.1L1410.0,147.6L1414.3,146.6L1414.6,134.9L1412.9,130.0L1420.0,127.5L1420.8,117.2L1417.1,110.2L1418.6,103.5L1416.6,89.9L1425.7,89.9L1431.4,92.9L1437.0,97.1L1441.3,108.0L1447.0,112.4L1452.7,106.3L1455.5,101.8L1458.4,111.8L1464.1,122.4L1468.3,128.5L1475.4,134.9L1480.6,143.9L1475.4,147.1L1468.3,152.5L1457.0,152.5L1449.8,153.4L1444.2,157.3L1451.3,157.3L1456.1,158.6L1452.7,162.1L1454.7,166.3L1458.4,170.4L1464.1,171.6L1468.3,169.6L1468.9,170.8L1465.5,173.7L1458.4,176.1L1451.8,180.4L1450.7,176.9L1455.5,173.2L1449.8,174.1L1447.0,176.5L1442.7,178.4L1439.3,180.0L1437.9,183.5L1439.9,187.0L1438.5,188.1L1435.6,188.5L1431.4,189.6L1428.5,191.5L1428.2,194.9L1426.0,197.8L1425.4,200.0L1423.7,204.0L1424.2,211.0L1421.4,212.7L1417.4,215.5L1413.7,217.9L1411.7,219.6L1408.3,222.6L1407.5,227.6L1409.7,233.8L1411.4,239.2L1411.2,242.1L1410.3,244.0L1408.3,244.3L1406.3,241.2L1404.0,236.7L1403.8,235.4L1403.5,232.2L1400.9,228.9L1398.6,228.6L1396.1,229.6L1393.0,227.3L1388.7,227.3L1388.4,226.6L1384.4,227.9L1385.0,231.5L1385.3,231.8L1381.6,231.5L1377.3,229.9L1372.2,229.6L1369.3,230.9L1368.8,231.2L1364.5,234.1L1362.2,236.4L1362.0,241.5L1361.1,246.2L1360.8,252.4L1362.2,257.0L1365.1,262.1L1365.6,262.4L1368.8,264.2L1370.2,265.6L1375.9,264.2L1378.7,264.5L1381.6,260.6L1381.9,257.0L1385.8,255.8L1390.1,255.5L1392.1,255.5L1391.5,259.1L1389.5,264.5L1388.1,267.5L1387.8,272.0L1390.1,272.6L1394.9,272.3L1399.5,272.6L1402.3,274.9L1401.5,279.3L1401.2,283.7L1400.9,286.6L1402.9,289.5L1405.2,291.8L1408.6,293.0L1411.7,291.2L1415.7,291.2L1418.8,293.3L1420.0,294.4L1419.1,295.6L1416.6,294.4L1416.0,295.3L1412.9,292.7L1410.3,295.3L1410.3,297.3L1407.2,295.8L1404.3,294.7L1401.2,293.8L1398.4,290.7L1395.2,289.8L1394.9,286.6L1391.5,282.3L1389.8,280.2L1384.4,279.3L1379.0,278.2L1376.5,276.4L1372.2,272.3L1369.6,271.4L1368.2,271.7L1364.5,272.9L1360.2,271.4L1354.8,269.6L1350.3,267.2L1344.6,265.1L1340.6,262.4L1338.3,258.8L1339.8,258.2L1339.2,255.5L1336.4,250.2L1332.1,245.9L1328.1,242.1L1324.7,236.7L1323.6,235.4L1319.9,230.2L1317.3,224.6L1313.0,222.9L1312.5,222.6L1313.3,226.9L1316.2,231.8L1319.0,235.7L1321.8,240.2L1324.7,246.8L1325.3,247.1L1327.5,250.2L1326.4,251.2L1323.8,247.7L1320.1,245.2L1319.6,241.5L1314.2,236.0L1311.9,235.1L1313.9,232.8L1309.6,227.6L1307.1,222.6L1305.9,220.3L1305.6,219.6L1303.9,216.5L1302.2,215.5L1299.9,214.5L1296.2,213.6L1294.8,210.0L1292.3,206.1L1290.6,202.9L1290.6,201.8L1289.1,200.0L1286.9,194.5L1285.2,192.3L1285.7,186.2L1284.9,183.1L1286.3,176.1L1286.3,169.2L1284.3,160.4L1289.1,161.2L1288.6,157.8L1284.9,154.3L1282.0,151.2L1276.3,148.9L1274.9,144.3L1270.6,137.3L1267.8,132.5L1263.5,127.5L1259.3,119.8L1253.6,112.9L1247.9,110.2L1242.2,105.2L1236.5,103.5L1229.7,103.5L1222.3,98.3L1216.6,100.0L1213.8,104.0L1208.1,108.0L1207.2,100.6L1210.9,96.5L1205.2,101.8L1202.4,108.0L1199.5,114.5L1193.8,120.9L1188.2,125.0L1182.5,127.5L1176.8,130.5L1170.2,132.9L1175.4,129.0L1181.0,125.5L1186.7,120.3L1191.0,116.7L1192.4,110.2L1188.2,110.2L1183.9,110.2L1178.8,111.3L1177.3,104.6L1171.1,100.6L1168.8,94.7L1169.7,88.1L1171.1,85.6L1177.3,82.4L1181.0,76.6L1181.0,75.9L1175.4,75.3L1168.5,75.9L1164.8,72.6ZM395.1,293.8L396.5,293.5L400.2,288.4L403.9,286.0L409.6,284.0L410.8,282.6L412.5,286.6L415.3,284.9L415.9,283.1L420.2,288.1L424.7,287.8L433.0,287.5L438.6,287.5L441.5,289.5L442.9,293.8L448.6,297.6L449.5,298.7L458.6,301.0L465.7,303.3L466.2,304.1L469.9,307.3L472.8,313.0L472.8,318.1L477.0,320.9L477.0,322.1L484.2,320.9L489.0,325.2L497.0,326.4L504.1,328.1L505.5,328.6L509.8,331.8L514.9,333.8L516.0,338.3L515.4,343.8L513.5,345.8L509.8,349.6L505.5,355.4L504.1,361.3L503.5,369.3L501.2,375.3L500.4,377.1L498.4,382.3L492.1,385.0L488.4,386.3L483.3,388.5L478.5,393.2L476.8,396.3L477.0,402.7L472.8,407.6L469.9,412.6L465.7,419.3L462.8,421.4L458.8,424.1L455.1,424.1L450.6,422.4L448.9,423.1L451.4,426.2L453.7,429.0L451.4,435.1L447.2,437.7L438.6,438.0L437.8,438.0L437.2,444.3L430.1,446.2L431.5,451.9L434.1,452.7L430.1,455.8L428.7,461.7L423.0,467.9L427.8,473.3L420.7,483.3L418.7,490.0L420.4,493.2L415.9,496.5L411.6,500.3L403.1,491.9L400.2,474.1L403.1,457.8L404.5,453.8L405.9,448.1L405.4,438.7L406.8,431.5L407.4,430.8L410.2,421.0L411.3,417.6L411.6,407.6L412.2,397.9L414.5,387.2L415.3,376.8L415.0,371.7L411.6,368.1L404.5,362.7L398.3,357.4L395.7,352.6L391.7,345.2L388.6,339.5L383.7,335.2L383.7,331.5L386.6,327.8L387.4,325.2L384.9,324.4L386.0,319.5L387.4,315.8L390.6,313.8L391.7,311.0L395.1,306.7L395.7,307.0L394.8,299.6L393.1,297.3L393.4,296.7ZM-628.9,293.8L-627.5,293.5L-623.8,288.4L-620.1,286.0L-614.4,284.0L-613.2,282.6L-611.5,286.6L-608.7,284.9L-608.1,283.1L-603.8,288.1L-599.3,287.8L-591.0,287.5L-585.4,287.5L-582.5,289.5L-581.1,293.8L-575.4,297.6L-574.5,298.7L-565.4,301.0L-558.3,303.3L-557.8,304.1L-554.1,307.3L-551.2,313.0L-551.2,318.1L-547.0,320.9L-547.0,322.1L-539.8,320.9L-535.0,325.2L-527.0,326.4L-519.9,328.1L-518.5,328.6L-514.2,331.8L-509.1,333.8L-508.0,338.3L-508.6,343.8L-510.5,345.8L-514.2,349.6L-518.5,355.4L-519.9,361.3L-520.5,369.3L-522.8,375.3L-523.6,377.1L-525.6,382.3L-531.9,385.0L-535.6,386.3L-540.7,388.5L-545.5,393.2L-547.2,396.3L-547.0,402.7L-551.2,407.6L-554.1,412.6L-558.3,419.3L-561.2,421.4L-565.2,424.1L-568.9,424.1L-573.4,422.4L-575.1,423.1L-572.6,426.2L-570.3,429.0L-572.6,435.1L-576.8,437.7L-585.4,438.0L-586.2,438.0L-586.8,444.3L-593.9,446.2L-592.5,451.9L-589.9,452.7L-593.9,455.8L-595.3,461.7L-601.0,467.9L-596.2,473.3L-603.3,483.3L-605.3,490.0L-603.6,493.2L-608.1,496.5L-612.4,500.3L-620.9,491.9L-623.8,474.1L-620.9,457.8L-619.5,453.8L-618.1,448.1L-618.6,438.7L-617.2,431.5L-616.6,430.8L-613.8,421.0L-612.7,417.6L-612.4,407.6L-611.8,397.9L-609.5,387.2L-608.7,376.8L-609.0,371.7L-612.4,368.1L-619.5,362.7L-625.7,357.4L-628.3,352.6L-632.3,345.2L-635.4,339.5L-640.3,335.2L-640.3,331.5L-637.4,327.8L-636.6,325.2L-639.1,324.4L-638.0,319.5L-636.6,315.8L-633.4,313.8L-632.3,311.0L-628.9,306.7L-628.3,307.0L-629.2,299.6L-630.9,297.3L-630.6,296.7ZM1419.1,293.8L1420.5,293.5L1424.2,288.4L1427.9,286.0L1433.6,284.0L1434.8,282.6L1436.5,286.6L1439.3,284.9L1439.9,283.1L1444.2,288.1L1448.7,287.8L1457.0,287.5L1462.6,287.5L1465.5,289.5L1466.9,293.8L1472.6,297.6L1473.5,298.7L1482.6,301.0L1489.7,303.3L1490.2,304.1L1493.9,307.3L1496.8,313.0L1496.8,318.1L1501.0,320.9L1501.0,322.1L1508.2,320.9L1513.0,325.2L1521.0,326.4L1528.1,328.1L1529.5,328.6L1533.8,331.8L1538.9,333.8L1540.0,338.3L1539.4,343.8L1537.5,345.8L1533.8,349.6L1529.5,355.4L1528.1,361.3L1527.5,369.3L1525.2,375.3L1524.4,377.1L1522.4,382.3L1516.1,385.0L1512.4,386.3L1507.3,388.5L1502.5,393.2L1500.8,396.3L1501.0,402.7L1496.8,407.6L1493.9,412.6L1489.7,419.3L1486.8,421.4L1482.8,424.1L1479.1,424.1L1474.6,422.4L1472.9,423.1L1475.4,426.2L1477.7,429.0L1475.4,435.1L1471.2,437.7L1462.6,438.0L1461.8,438.0L1461.2,444.3L1454.1,446.2L1455.5,451.9L1458.1,452.7L1454.1,455.8L1452.7,461.7L1447.0,467.9L1451.8,473.3L1444.7,483.3L1442.7,490.0L1444.4,493.2L1439.9,496.5L1435.6,500.3L1427.1,491.9L1424.2,474.1L1427.1,457.8L1428.5,453.8L1429.9,448.1L1429.4,438.7L1430.8,431.5L1431.4,430.8L1434.2,421.0L1435.3,417.6L1435.6,407.6L1436.2,397.9L1438.5,387.2L1439.3,376.8L1439.0,371.7L1435.6,368.1L1428.5,362.7L1422.3,357.4L1419.7,352.6L1415.7,345.2L1412.6,339.5L1407.7,335.2L1407.7,331.5L1410.6,327.8L1411.4,325.2L1408.9,324.4L1410.0,319.5L1411.4,315.8L1414.6,313.8L1415.7,311.0L1419.1,306.7L1419.7,307.0L1418.8,299.6L1417.1,297.3L1417.4,296.7ZM598.2,208.9L595.7,215.2L593.4,216.5L590.8,217.5L588.5,220.3L587.1,223.6L587.7,227.3L586.0,230.5L582.3,234.4L578.0,236.0L573.8,240.8L569.8,248.7L568.1,252.7L566.6,257.0L568.6,261.5L569.5,265.7L568.1,272.0L566.6,274.9L565.2,275.8L567.2,279.3L567.5,282.8L570.9,285.2L573.8,288.1L577.2,291.0L577.5,293.8L579.4,295.8L582.3,298.4L584.3,300.1L589.4,303.9L593.7,305.6L600.8,303.6L609.0,304.7L614.4,302.4L619.6,300.4L624.7,299.9L629.2,301.3L632.1,305.9L634.9,305.6L639.2,305.0L641.5,307.0L642.9,311.0L642.0,315.3L641.7,317.0L639.7,320.1L643.4,326.6L648.6,331.8L650.0,335.2L652.5,343.2L653.4,349.0L650.6,356.9L648.6,364.2L648.3,368.1L650.6,372.6L656.2,385.0L658.2,396.3L661.9,403.1L664.8,409.3L666.2,415.9L667.3,420.7L667.6,422.4L671.9,423.8L679.0,421.0L687.8,421.0L693.2,418.3L700.3,411.6L703.2,407.0L707.4,402.7L707.7,394.7L716.0,388.5L715.4,382.3L714.0,376.2L718.8,372.9L727.4,365.7L730.2,361.3L730.5,349.6L726.8,340.9L726.8,337.5L727.6,330.9L727.9,329.8L731.6,323.8L735.9,319.5L740.2,313.8L743.9,312.4L747.3,308.1L751.5,303.9L756.4,293.0L759.5,288.4L760.9,284.3L754.4,285.7L745.8,287.5L740.2,288.4L737.9,285.2L736.7,282.3L733.0,277.9L728.8,273.5L727.4,273.2L724.5,266.0L720.8,261.2L718.8,253.9L716.0,248.1L713.1,243.0L710.6,237.3L707.7,228.9L710.3,234.1L712.6,235.7L713.7,233.5L714.3,230.2L712.3,224.3L706.9,224.6L703.2,223.3L700.0,224.6L693.2,223.9L686.7,223.3L683.3,221.6L680.7,219.9L679.0,219.2L674.7,219.2L672.2,221.6L670.5,226.9L667.6,227.3L660.5,224.3L658.5,220.9L652.5,218.9L647.7,218.2L644.9,216.2L643.7,213.8L645.4,212.7L646.6,211.0L645.2,206.8L646.6,204.3L644.0,204.0L643.2,203.6L639.5,205.0L635.5,204.3L630.6,205.7L623.5,205.4L619.3,206.4L613.3,209.3L608.7,211.4L605.0,211.0L599.9,208.6ZM-425.8,208.9L-428.3,215.2L-430.6,216.5L-433.2,217.5L-435.5,220.3L-436.9,223.6L-436.3,227.3L-438.0,230.5L-441.7,234.4L-446.0,236.0L-450.2,240.8L-454.2,248.7L-455.9,252.7L-457.4,257.0L-455.4,261.5L-454.5,265.7L-455.9,272.0L-457.4,274.9L-458.8,275.8L-456.8,279.3L-456.5,282.8L-453.1,285.2L-450.2,288.1L-446.8,291.0L-446.5,293.8L-444.6,295.8L-441.7,298.4L-439.7,300.1L-434.6,303.9L-430.3,305.6L-423.2,303.6L-415.0,304.7L-409.6,302.4L-404.4,300.4L-399.3,299.9L-394.8,301.3L-391.9,305.9L-389.1,305.6L-384.8,305.0L-382.5,307.0L-381.1,311.0L-382.0,315.3L-382.3,317.0L-384.3,320.1L-380.6,326.6L-375.4,331.8L-374.0,335.2L-371.5,343.2L-370.6,349.0L-373.4,356.9L-375.4,364.2L-375.7,368.1L-373.4,372.6L-367.8,385.0L-365.8,396.3L-362.1,403.1L-359.2,409.3L-357.8,415.9L-356.7,420.7L-356.4,422.4L-352.1,423.8L-345.0,421.0L-336.2,421.0L-330.8,418.3L-323.7,411.6L-320.8,407.0L-316.6,402.7L-316.3,394.7L-308.0,388.5L-308.6,382.3L-310.0,376.2L-305.2,372.9L-296.6,365.7L-293.8,361.3L-293.5,349.6L-297.2,340.9L-297.2,337.5L-296.4,330.9L-296.1,329.8L-292.4,323.8L-288.1,319.5L-283.8,313.8L-280.1,312.4L-276.7,308.1L-272.5,303.9L-267.6,293.0L-264.5,288.4L-263.1,284.3L-269.6,285.7L-278.2,287.5L-283.8,288.4L-286.1,285.2L-287.3,282.3L-291.0,277.9L-295.2,273.5L-296.6,273.2L-299.5,266.0L-303.2,261.2L-305.2,253.9L-308.0,248.1L-310.9,243.0L-313.4,237.3L-316.3,228.9L-313.7,234.1L-311.4,235.7L-310.3,233.5L-309.7,230.2L-311.7,224.3L-317.1,224.6L-320.8,223.3L-324.0,224.6L-330.8,223.9L-337.3,223.3L-340.7,221.6L-343.3,219.9L-345.0,219.2L-349.3,219.2L-351.8,221.6L-353.5,226.9L-356.4,227.3L-363.5,224.3L-365.5,220.9L-371.5,218.9L-376.3,218.2L-379.1,216.2L-380.3,213.8L-378.6,212.7L-377.4,211.0L-378.8,206.8L-377.4,204.3L-380.0,204.0L-380.8,203.6L-384.5,205.0L-388.5,204.3L-393.4,205.7L-400.5,205.4L-404.7,206.4L-410.7,209.3L-415.3,211.4L-419.0,211.0L-424.1,208.6ZM1622.2,208.9L1619.7,215.2L1617.4,216.5L1614.8,217.5L1612.5,220.3L1611.1,223.6L1611.7,227.3L1610.0,230.5L1606.3,234.4L1602.0,236.0L1597.8,240.8L1593.8,248.7L1592.1,252.7L1590.6,257.0L1592.6,261.5L1593.5,265.7L1592.1,272.0L1590.6,274.9L1589.2,275.8L1591.2,279.3L1591.5,282.8L1594.9,285.2L1597.8,288.1L1601.2,291.0L1601.5,293.8L1603.4,295.8L1606.3,298.4L1608.3,300.1L1613.4,303.9L1617.7,305.6L1624.8,303.6L1633.0,304.7L1638.4,302.4L1643.6,300.4L1648.7,299.9L1653.2,301.3L1656.1,305.9L1658.9,305.6L1663.2,305.0L1665.5,307.0L1666.9,311.0L1666.0,315.3L1665.7,317.0L1663.7,320.1L1667.4,326.6L1672.6,331.8L1674.0,335.2L1676.5,343.2L1677.4,349.0L1674.6,356.9L1672.6,364.2L1672.3,368.1L1674.6,372.6L1680.2,385.0L1682.2,396.3L1685.9,403.1L1688.8,409.3L1690.2,415.9L1691.3,420.7L1691.6,422.4L1695.9,423.8L1703.0,421.0L1711.8,421.0L1717.2,418.3L1724.3,411.6L1727.2,407.0L1731.4,402.7L1731.7,394.7L1740.0,388.5L1739.4,382.3L1738.0,376.2L1742.8,372.9L1751.4,365.7L1754.2,361.3L1754.5,349.6L1750.8,340.9L1750.8,337.5L1751.6,330.9L1751.9,329.8L1755.6,323.8L1759.9,319.5L1764.2,313.8L1767.9,312.4L1771.3,308.1L1775.5,303.9L1780.4,293.0L1783.5,288.4L1784.9,284.3L1778.4,285.7L1769.8,287.5L1764.2,288.4L1761.9,285.2L1760.7,282.3L1757.0,277.9L1752.8,273.5L1751.4,273.2L1748.5,266.0L1744.8,261.2L1742.8,253.9L1740.0,248.1L1737.1,243.0L1734.6,237.3L1731.7,228.9L1734.3,234.1L1736.6,235.7L1737.7,233.5L1738.3,230.2L1736.3,224.3L1730.9,224.6L1727.2,223.3L1724.0,224.6L1717.2,223.9L1710.7,223.3L1707.3,221.6L1704.7,219.9L1703.0,219.2L1698.7,219.2L1696.2,221.6L1694.5,226.9L1691.6,227.3L1684.5,224.3L1682.5,220.9L1676.5,218.9L1671.7,218.2L1668.9,216.2L1667.7,213.8L1669.4,212.7L1670.6,211.0L1669.2,206.8L1670.6,204.3L1668.0,204.0L1667.2,203.6L1663.5,205.0L1659.5,204.3L1654.6,205.7L1647.5,205.4L1643.3,206.4L1637.3,209.3L1632.7,211.4L1629.0,211.0L1623.9,208.6ZM599.1,208.2L597.1,206.1L595.1,204.0L592.5,204.7L589.7,204.7L590.0,201.1L588.8,198.5L588.0,198.2L589.4,195.2L590.0,191.2L589.7,187.0L589.7,183.9L588.5,182.4L591.7,180.0L595.1,180.0L599.4,180.0L604.2,180.6L609.9,180.8L611.3,176.9L611.6,171.2L609.0,166.3L606.5,164.2L602.5,162.9L601.3,160.4L603.6,159.1L606.5,158.6L610.4,159.1L609.6,154.7L611.3,155.1L614.4,156.5L615.6,154.7L619.0,152.9L619.6,149.4L622.1,148.5L625.2,147.1L626.9,144.8L628.4,140.1L630.1,137.8L634.3,137.3L637.8,136.8L639.7,135.4L640.3,133.4L639.5,128.0L638.0,125.0L638.3,120.3L639.5,119.3L643.4,116.7L645.2,116.1L644.6,119.8L644.3,122.4L646.0,123.4L644.0,126.0L642.9,130.0L643.7,132.5L646.0,132.9L647.7,134.9L650.6,132.9L653.7,132.5L655.4,135.4L659.1,133.9L663.4,131.5L667.3,131.0L668.2,132.9L670.8,132.7L673.3,130.5L675.3,129.0L675.0,125.0L674.7,120.9L676.4,117.7L679.3,115.9L681.3,119.8L683.6,119.8L684.4,115.1L682.1,112.4L681.8,109.1L685.0,106.3L690.4,105.7L694.6,106.3L697.5,104.0L701.2,103.8L698.1,102.3L694.6,100.6L690.4,101.2L686.1,102.3L681.8,103.8L680.1,104.6L678.4,101.2L675.9,99.4L675.9,94.7L676.2,89.3L675.3,85.6L678.4,81.8L682.7,77.2L685.5,73.3L687.2,71.2L687.0,68.5L684.7,67.1L680.4,67.1L678.1,68.5L675.6,73.3L674.7,77.2L672.7,80.5L669.6,83.7L667.1,86.8L664.8,89.9L663.9,94.7L664.2,99.4L667.6,102.3L668.8,104.6L667.1,107.4L663.9,110.2L662.2,115.1L661.9,119.8L660.8,123.4L659.1,124.2L656.2,125.0L655.4,128.0L652.0,128.0L651.7,126.0L650.8,123.9L651.4,121.9L649.1,117.7L648.6,114.5L647.1,110.2L646.6,108.5L645.2,104.6L645.4,104.0L644.0,109.1L642.0,109.6L639.2,112.9L636.3,114.5L633.8,114.0L630.9,110.7L630.6,107.4L629.2,103.5L628.9,98.9L629.2,94.7L629.8,90.5L632.6,88.1L636.3,85.6L639.2,82.4L642.9,79.8L645.7,75.3L649.1,69.9L650.6,64.3L653.4,57.1L657.1,51.9L659.1,48.1L661.9,46.5L664.8,41.0L668.5,36.9L673.3,34.4L677.6,31.9L683.3,27.6L688.4,25.9L693.2,26.7L696.9,28.5L700.3,31.9L703.2,35.3L704.6,36.9L708.9,40.2L714.6,41.8L721.7,46.5L728.2,51.2L731.6,56.4L732.2,60.0L728.8,63.6L724.5,65.0L718.8,63.6L714.0,61.5L710.3,61.5L707.4,58.6L711.1,63.6L714.0,67.1L713.4,75.3L717.4,79.2L721.7,80.5L727.4,75.3L730.2,75.3L730.2,71.2L734.5,62.9L740.2,65.0L740.7,54.2L738.4,45.8L743.0,47.3L747.3,52.7L751.5,53.4L757.2,51.2L762.9,47.3L767.2,44.2L771.4,48.1L777.1,46.5L781.4,43.4L785.7,37.7L787.1,44.2L791.4,38.6L798.5,41.0L804.2,39.4L807.0,45.0L805.0,35.3L805.6,26.7L809.3,15.9L811.3,8.3L815.5,3.4L818.4,10.3L821.2,17.8L822.1,26.7L821.2,35.3L824.1,43.4L824.1,51.2L822.6,58.6L826.9,54.9L828.3,47.3L826.9,39.4L825.5,31.1L826.9,22.3L831.2,15.9L838.3,15.0L844.0,17.8L845.4,22.3L849.7,26.7L846.8,11.2L844.0,3.4L851.1,-1.7L861.0,-6.9L863.9,-14.6L873.8,-21.4L885.2,-23.7L899.4,-29.7L911.7,-45.0L916.5,-38.4L920.8,-29.7L930.7,-30.9L937.8,-17.9L936.4,-1.7L930.7,2.4L937.8,2.4L945.0,2.4L953.5,7.3L962.0,8.3L967.7,2.4L974.8,3.4L980.5,10.3L983.4,17.8L987.6,26.7L993.3,22.3L1001.8,21.4L1010.4,15.9L1014.6,13.1L1021.8,11.2L1030.3,15.0L1040.2,16.9L1045.9,24.1L1051.6,27.6L1061.6,26.7L1068.7,29.3L1073.0,38.6L1081.5,37.7L1091.4,36.9L1097.1,36.9L1100.0,34.4L1107.1,36.1L1115.6,36.9L1121.3,41.0L1127.0,44.2L1132.7,49.6L1139.8,54.9L1145.5,58.6L1149.8,61.5L1156.3,65.0L1152.6,68.5L1148.3,71.2L1146.9,75.9L1144.1,77.2L1139.8,73.9L1135.5,70.6L1129.8,72.6L1124.2,74.6L1119.9,76.6L1119.9,85.6L1124.2,89.9L1117.0,91.7L1111.4,92.9L1107.1,97.7L1101.4,101.8L1098.6,104.0L1092.9,101.8L1087.7,104.0L1084.3,101.8L1080.1,104.0L1078.6,109.1L1075.8,113.4L1078.6,117.2L1077.2,123.4L1075.2,128.5L1071.5,132.5L1069.5,138.7L1065.8,140.6L1064.4,144.3L1060.7,148.9L1060.2,145.3L1058.7,139.7L1057.6,132.5L1057.9,125.0L1060.2,118.8L1063.0,115.6L1065.8,113.4L1070.1,106.3L1074.4,101.8L1078.6,95.9L1080.1,88.7L1073.0,97.7L1068.7,93.5L1061.6,94.1L1055.9,103.5L1053.0,107.4L1047.4,109.1L1043.1,105.7L1037.4,107.4L1030.3,107.4L1023.2,107.4L1018.9,109.1L1014.6,114.5L1009.0,120.9L1004.7,130.0L1004.7,134.9L1009.8,133.9L1014.1,135.9L1017.2,139.7L1016.9,144.3L1014.9,148.9L1014.6,155.6L1013.8,160.4L1010.4,165.4L1006.1,171.2L1001.8,176.5L999.0,180.0L994.7,183.1L990.5,181.6L988.5,183.9L986.8,185.1L984.8,188.1L983.9,190.8L980.5,193.8L977.7,195.2L977.7,197.5L980.2,199.3L981.9,202.5L983.1,206.1L983.4,209.6L982.5,211.2L980.5,212.1L977.7,213.1L975.1,213.8L974.3,212.4L974.8,208.9L975.7,206.4L974.8,204.3L975.1,202.2L972.0,202.2L970.0,200.7L971.4,197.5L970.0,195.2L968.3,194.1L964.9,194.9L962.0,196.4L960.0,197.8L961.5,195.6L962.6,192.6L960.6,190.4L957.8,192.6L954.9,194.5L952.1,197.1L950.1,197.8L949.5,200.0L951.5,201.8L953.5,204.0L957.2,202.5L960.6,202.9L963.4,204.7L959.7,206.1L957.8,207.9L954.9,210.7L954.6,212.7L957.2,215.2L958.9,220.3L961.5,222.6L961.7,225.6L960.0,227.3L962.0,228.9L961.7,231.8L959.7,234.1L957.8,237.3L955.8,239.9L954.9,243.0L952.9,244.9L950.6,246.5L947.8,249.0L945.0,251.2L942.1,251.8L939.8,253.0L937.3,253.9L933.6,254.8L930.2,256.1L928.5,258.2L929.3,259.4L927.3,259.1L927.0,255.5L923.6,255.2L920.8,255.8L918.5,258.2L916.5,260.3L915.7,263.0L917.9,266.0L919.6,268.7L923.1,272.0L924.8,274.3L925.9,279.0L925.6,283.7L924.5,285.7L921.6,287.8L918.5,288.9L917.9,291.0L915.1,293.3L913.1,293.5L913.1,291.0L913.4,288.6L911.7,288.1L909.4,287.8L908.0,285.7L906.8,283.4L904.6,282.0L902.0,281.4L902.0,279.3L899.7,279.6L899.2,282.6L897.2,287.2L897.5,291.0L900.0,294.4L900.9,297.3L903.1,298.4L905.7,300.4L908.3,303.0L909.4,306.1L909.1,309.8L911.4,313.5L909.4,314.4L907.4,312.7L903.4,310.1L902.0,307.3L900.3,303.9L900.0,300.1L898.6,298.1L896.0,295.6L894.6,294.7L895.2,291.0L895.5,288.1L895.7,284.3L894.6,279.3L893.2,274.9L892.3,270.8L890.3,269.3L888.1,270.8L886.4,272.6L884.1,272.0L883.2,269.0L882.9,264.8L881.2,262.1L879.5,260.0L877.8,257.9L876.7,255.5L876.1,252.7L873.8,252.1L872.4,253.6L870.4,254.5L868.2,254.8L865.6,254.8L863.3,256.1L862.2,258.2L860.8,260.3L857.6,261.8L855.4,264.2L852.8,266.3L849.7,269.0L848.8,270.5L846.3,272.0L843.7,273.5L843.1,277.0L843.4,280.5L842.3,283.7L842.0,286.6L840.6,288.6L839.4,291.0L837.7,292.7L835.4,295.0L833.5,293.3L832.0,290.1L830.6,286.0L828.9,282.8L827.5,279.3L826.3,276.4L824.9,273.2L823.8,269.6L822.6,266.0L822.1,263.0L822.1,259.1L821.5,256.1L820.4,253.3L819.2,256.4L816.7,257.6L813.5,255.8L811.3,253.0L813.5,251.5L811.8,251.5L809.6,249.3L807.3,248.1L805.6,245.2L804.2,243.4L799.9,243.7L795.6,244.0L791.4,244.3L789.9,244.0L787.1,243.4L784.2,243.4L781.4,242.7L778.6,242.1L777.7,239.9L776.6,238.0L774.6,237.6L772.9,239.2L770.0,239.6L767.2,238.6L764.3,237.0L761.5,235.4L759.5,232.5L758.1,230.2L756.7,228.2L754.4,228.6L753.0,228.9L751.5,229.2L751.2,231.2L752.7,233.5L754.4,236.0L756.1,238.6L757.8,240.5L758.9,243.0L759.5,245.2L760.1,241.5L761.5,241.2L761.8,244.0L761.5,245.9L764.3,247.1L767.2,247.4L770.0,246.8L772.9,243.7L774.3,241.5L775.4,240.5L775.1,242.7L775.4,245.2L776.8,247.1L779.4,248.7L781.7,249.0L784.0,251.8L785.1,252.7L783.7,255.8L781.7,258.5L779.4,260.6L779.1,263.3L776.0,265.1L772.9,266.9L770.3,269.0L767.2,269.9L763.5,272.9L760.1,274.6L755.8,276.1L753.0,277.9L748.7,279.3L744.4,280.8L741.6,281.7L738.7,281.7L737.9,279.9L736.7,276.4L736.5,273.5L736.2,270.5L733.9,267.5L731.6,264.2L729.6,260.6L727.4,257.6L726.2,254.8L725.4,251.8L723.9,248.7L721.7,246.2L720.5,243.7L718.8,240.8L716.8,237.3L715.1,234.8L714.3,230.2L712.3,224.3L713.4,222.6L714.6,219.2L716.0,215.5L717.1,212.1L716.8,208.9L718.0,206.1L716.0,206.1L713.7,205.4L711.7,207.2L708.9,207.9L706.9,207.5L703.2,205.4L701.8,206.4L700.6,207.5L698.3,207.2L695.5,205.7L693.2,204.7L692.4,202.2L690.7,200.0L691.2,198.2L690.4,195.6L689.5,193.8L690.9,192.3L689.0,190.8L686.1,190.4L683.3,190.8L680.1,191.5L679.3,193.8L680.1,196.4L681.3,197.5L679.6,198.2L681.0,200.0L683.3,200.7L680.4,201.4L681.0,203.6L679.9,206.4L678.7,206.4L677.3,205.0L676.4,202.9L675.0,201.4L675.9,200.0L674.4,198.5L673.9,197.1L672.2,195.2L670.2,192.6L670.2,190.0L670.5,187.0L668.8,185.1L667.6,184.3L664.8,182.4L661.9,180.4L660.2,179.6L658.2,177.7L657.4,175.3L655.7,173.2L653.7,174.5L654.0,172.0L652.3,171.6L650.3,172.8L650.0,175.3L650.3,177.7L652.0,179.2L653.7,180.4L654.8,183.5L656.8,185.8L659.1,186.6L660.8,187.8L663.1,189.3L665.9,191.2L667.6,193.0L667.1,194.5L664.2,192.3L663.1,192.3L662.2,193.8L662.2,196.0L663.6,197.8L662.2,199.3L660.8,201.1L659.7,201.3L659.7,200.0L660.8,197.8L659.7,195.2L659.4,193.4L657.7,193.0L656.2,191.5L655.1,190.8L654.0,189.3L652.0,188.9L650.6,187.4L648.6,185.8L646.6,184.7L644.9,182.8L644.3,180.4L642.9,178.1L640.6,176.9L638.9,177.7L636.9,179.2L634.9,180.4L633.8,181.6L632.1,182.0L630.1,181.2L628.1,180.8L626.4,180.4L624.1,181.6L623.5,183.5L624.1,185.1L624.1,186.6L621.3,188.5L617.8,190.0L617.0,191.2L615.0,194.1L614.1,196.0L615.6,198.2L613.9,200.0L613.0,202.5L611.3,202.9L609.6,205.0L608.2,205.4L605.3,205.7L602.5,205.7L600.8,206.4L599.9,207.9ZM-424.9,208.2L-426.9,206.1L-428.9,204.0L-431.5,204.7L-434.3,204.7L-434.0,201.1L-435.2,198.5L-436.0,198.2L-434.6,195.2L-434.0,191.2L-434.3,187.0L-434.3,183.9L-435.5,182.4L-432.3,180.0L-428.9,180.0L-424.6,180.0L-419.8,180.6L-414.1,180.8L-412.7,176.9L-412.4,171.2L-415.0,166.3L-417.5,164.2L-421.5,162.9L-422.7,160.4L-420.4,159.1L-417.5,158.6L-413.6,159.1L-414.4,154.7L-412.7,155.1L-409.6,156.5L-408.4,154.7L-405.0,152.9L-404.4,149.4L-401.9,148.5L-398.8,147.1L-397.1,144.8L-395.6,140.1L-393.9,137.8L-389.7,137.3L-386.2,136.8L-384.3,135.4L-383.7,133.4L-384.5,128.0L-386.0,125.0L-385.7,120.3L-384.5,119.3L-380.6,116.7L-378.8,116.1L-379.4,119.8L-379.7,122.4L-378.0,123.4L-380.0,126.0L-381.1,130.0L-380.3,132.5L-378.0,132.9L-376.3,134.9L-373.4,132.9L-370.3,132.5L-368.6,135.4L-364.9,133.9L-360.6,131.5L-356.7,131.0L-355.8,132.9L-353.2,132.7L-350.7,130.5L-348.7,129.0L-349.0,125.0L-349.3,120.9L-347.6,117.7L-344.7,115.9L-342.7,119.8L-340.4,119.8L-339.6,115.1L-341.9,112.4L-342.2,109.1L-339.0,106.3L-333.6,105.7L-329.4,106.3L-326.5,104.0L-322.8,103.8L-325.9,102.3L-329.4,100.6L-333.6,101.2L-337.9,102.3L-342.2,103.8L-343.9,104.6L-345.6,101.2L-348.1,99.4L-348.1,94.7L-347.8,89.3L-348.7,85.6L-345.6,81.8L-341.3,77.2L-338.5,73.3L-336.8,71.2L-337.0,68.5L-339.3,67.1L-343.6,67.1L-345.9,68.5L-348.4,73.3L-349.3,77.2L-351.3,80.5L-354.4,83.7L-356.9,86.8L-359.2,89.9L-360.1,94.7L-359.8,99.4L-356.4,102.3L-355.2,104.6L-356.9,107.4L-360.1,110.2L-361.8,115.1L-362.1,119.8L-363.2,123.4L-364.9,124.2L-367.8,125.0L-368.6,128.0L-372.0,128.0L-372.3,126.0L-373.2,123.9L-372.6,121.9L-374.9,117.7L-375.4,114.5L-376.9,110.2L-377.4,108.5L-378.8,104.6L-378.6,104.0L-380.0,109.1L-382.0,109.6L-384.8,112.9L-387.7,114.5L-390.2,114.0L-393.1,110.7L-393.4,107.4L-394.8,103.5L-395.1,98.9L-394.8,94.7L-394.2,90.5L-391.4,88.1L-387.7,85.6L-384.8,82.4L-381.1,79.8L-378.3,75.3L-374.9,69.9L-373.4,64.3L-370.6,57.1L-366.9,51.9L-364.9,48.1L-362.1,46.5L-359.2,41.0L-355.5,36.9L-350.7,34.4L-346.4,31.9L-340.7,27.6L-335.6,25.9L-330.8,26.7L-327.1,28.5L-323.7,31.9L-320.8,35.3L-319.4,36.9L-315.1,40.2L-309.4,41.8L-302.3,46.5L-295.8,51.2L-292.4,56.4L-291.8,60.0L-295.2,63.6L-299.5,65.0L-305.2,63.6L-310.0,61.5L-313.7,61.5L-316.6,58.6L-312.9,63.6L-310.0,67.1L-310.6,75.3L-306.6,79.2L-302.3,80.5L-296.6,75.3L-293.8,75.3L-293.8,71.2L-289.5,62.9L-283.8,65.0L-283.3,54.2L-285.6,45.8L-281.0,47.3L-276.7,52.7L-272.5,53.4L-266.8,51.2L-261.1,47.3L-256.8,44.2L-252.6,48.1L-246.9,46.5L-242.6,43.4L-238.3,37.7L-236.9,44.2L-232.6,38.6L-225.5,41.0L-219.8,39.4L-217.0,45.0L-219.0,35.3L-218.4,26.7L-214.7,15.9L-212.7,8.3L-208.5,3.4L-205.6,10.3L-202.8,17.8L-201.9,26.7L-202.8,35.3L-199.9,43.4L-199.9,51.2L-201.4,58.6L-197.1,54.9L-195.7,47.3L-197.1,39.4L-198.5,31.1L-197.1,22.3L-192.8,15.9L-185.7,15.0L-180.0,17.8L-178.6,22.3L-174.3,26.7L-177.2,11.2L-180.0,3.4L-172.9,-1.7L-163.0,-6.9L-160.1,-14.6L-150.2,-21.4L-138.8,-23.7L-124.6,-29.7L-112.3,-45.0L-107.5,-38.4L-103.2,-29.7L-93.3,-30.9L-86.2,-17.9L-87.6,-1.7L-93.3,2.4L-86.2,2.4L-79.0,2.4L-70.5,7.3L-62.0,8.3L-56.3,2.4L-49.2,3.4L-43.5,10.3L-40.6,17.8L-36.4,26.7L-30.7,22.3L-22.2,21.4L-13.6,15.9L-9.4,13.1L-2.2,11.2L6.3,15.0L16.2,16.9L21.9,24.1L27.6,27.6L37.6,26.7L44.7,29.3L49.0,38.6L57.5,37.7L67.4,36.9L73.1,36.9L76.0,34.4L83.1,36.1L91.6,36.9L97.3,41.0L103.0,44.2L108.7,49.6L115.8,54.9L121.5,58.6L125.8,61.5L132.3,65.0L128.6,68.5L124.3,71.2L122.9,75.9L120.1,77.2L115.8,73.9L111.5,70.6L105.8,72.6L100.2,74.6L95.9,76.6L95.9,85.6L100.2,89.9L93.0,91.7L87.4,92.9L83.1,97.7L77.4,101.8L74.6,104.0L68.9,101.8L63.7,104.0L60.3,101.8L56.1,104.0L54.6,109.1L51.8,113.4L54.6,117.2L53.2,123.4L51.2,128.5L47.5,132.5L45.5,138.7L41.8,140.6L40.4,144.3L36.7,148.9L36.2,145.3L34.7,139.7L33.6,132.5L33.9,125.0L36.2,118.8L39.0,115.6L41.8,113.4L46.1,106.3L50.4,101.8L54.6,95.9L56.1,88.7L49.0,97.7L44.7,93.5L37.6,94.1L31.9,103.5L29.0,107.4L23.4,109.1L19.1,105.7L13.4,107.4L6.3,107.4L-0.8,107.4L-5.1,109.1L-9.4,114.5L-15.0,120.9L-19.3,130.0L-19.3,134.9L-14.2,133.9L-9.9,135.9L-6.8,139.7L-7.1,144.3L-9.1,148.9L-9.4,155.6L-10.2,160.4L-13.6,165.4L-17.9,171.2L-22.2,176.5L-25.0,180.0L-29.3,183.1L-33.5,181.6L-35.5,183.9L-37.2,185.1L-39.2,188.1L-40.1,190.8L-43.5,193.8L-46.3,195.2L-46.3,197.5L-43.8,199.3L-42.1,202.5L-40.9,206.1L-40.6,209.6L-41.5,211.2L-43.5,212.1L-46.3,213.1L-48.9,213.8L-49.7,212.4L-49.2,208.9L-48.3,206.4L-49.2,204.3L-48.9,202.2L-52.0,202.2L-54.0,200.7L-52.6,197.5L-54.0,195.2L-55.7,194.1L-59.1,194.9L-62.0,196.4L-64.0,197.8L-62.5,195.6L-61.4,192.6L-63.4,190.4L-66.2,192.6L-69.1,194.5L-71.9,197.1L-73.9,197.8L-74.5,200.0L-72.5,201.8L-70.5,204.0L-66.8,202.5L-63.4,202.9L-60.6,204.7L-64.3,206.1L-66.2,207.9L-69.1,210.7L-69.4,212.7L-66.8,215.2L-65.1,220.3L-62.5,222.6L-62.3,225.6L-64.0,227.3L-62.0,228.9L-62.3,231.8L-64.3,234.1L-66.2,237.3L-68.2,239.9L-69.1,243.0L-71.1,244.9L-73.4,246.5L-76.2,249.0L-79.0,251.2L-81.9,251.8L-84.2,253.0L-86.7,253.9L-90.4,254.8L-93.8,256.1L-95.5,258.2L-94.7,259.4L-96.7,259.1L-97.0,255.5L-100.4,255.2L-103.2,255.8L-105.5,258.2L-107.5,260.3L-108.3,263.0L-106.1,266.0L-104.4,268.7L-100.9,272.0L-99.2,274.3L-98.1,279.0L-98.4,283.7L-99.5,285.7L-102.4,287.8L-105.5,288.9L-106.1,291.0L-108.9,293.3L-110.9,293.5L-110.9,291.0L-110.6,288.6L-112.3,288.1L-114.6,287.8L-116.0,285.7L-117.2,283.4L-119.4,282.0L-122.0,281.4L-122.0,279.3L-124.3,279.6L-124.8,282.6L-126.8,287.2L-126.5,291.0L-124.0,294.4L-123.1,297.3L-120.9,298.4L-118.3,300.4L-115.7,303.0L-114.6,306.1L-114.9,309.8L-112.6,313.5L-114.6,314.4L-116.6,312.7L-120.6,310.1L-122.0,307.3L-123.7,303.9L-124.0,300.1L-125.4,298.1L-128.0,295.6L-129.4,294.7L-128.8,291.0L-128.5,288.1L-128.3,284.3L-129.4,279.3L-130.8,274.9L-131.7,270.8L-133.7,269.3L-135.9,270.8L-137.6,272.6L-139.9,272.0L-140.8,269.0L-141.1,264.8L-142.8,262.1L-144.5,260.0L-146.2,257.9L-147.3,255.5L-147.9,252.7L-150.2,252.1L-151.6,253.6L-153.6,254.5L-155.8,254.8L-158.4,254.8L-160.7,256.1L-161.8,258.2L-163.2,260.3L-166.4,261.8L-168.6,264.2L-171.2,266.3L-174.3,269.0L-175.2,270.5L-177.7,272.0L-180.3,273.5L-180.9,277.0L-180.6,280.5L-181.7,283.7L-182.0,286.6L-183.4,288.6L-184.6,291.0L-186.3,292.7L-188.6,295.0L-190.5,293.3L-192.0,290.1L-193.4,286.0L-195.1,282.8L-196.5,279.3L-197.7,276.4L-199.1,273.2L-200.2,269.6L-201.4,266.0L-201.9,263.0L-201.9,259.1L-202.5,256.1L-203.6,253.3L-204.8,256.4L-207.3,257.6L-210.5,255.8L-212.7,253.0L-210.5,251.5L-212.2,251.5L-214.4,249.3L-216.7,248.1L-218.4,245.2L-219.8,243.4L-224.1,243.7L-228.4,244.0L-232.6,244.3L-234.1,244.0L-236.9,243.4L-239.8,243.4L-242.6,242.7L-245.4,242.1L-246.3,239.9L-247.4,238.0L-249.4,237.6L-251.1,239.2L-254.0,239.6L-256.8,238.6L-259.7,237.0L-262.5,235.4L-264.5,232.5L-265.9,230.2L-267.3,228.2L-269.6,228.6L-271.0,228.9L-272.5,229.2L-272.8,231.2L-271.3,233.5L-269.6,236.0L-267.9,238.6L-266.2,240.5L-265.1,243.0L-264.5,245.2L-263.9,241.5L-262.5,241.2L-262.2,244.0L-262.5,245.9L-259.7,247.1L-256.8,247.4L-254.0,246.8L-251.1,243.7L-249.7,241.5L-248.6,240.5L-248.9,242.7L-248.6,245.2L-247.2,247.1L-244.6,248.7L-242.3,249.0L-240.0,251.8L-238.9,252.7L-240.3,255.8L-242.3,258.5L-244.6,260.6L-244.9,263.3L-248.0,265.1L-251.1,266.9L-253.7,269.0L-256.8,269.9L-260.5,272.9L-263.9,274.6L-268.2,276.1L-271.0,277.9L-275.3,279.3L-279.6,280.8L-282.4,281.7L-285.3,281.7L-286.1,279.9L-287.3,276.4L-287.5,273.5L-287.8,270.5L-290.1,267.5L-292.4,264.2L-294.4,260.6L-296.6,257.6L-297.8,254.8L-298.6,251.8L-300.1,248.7L-302.3,246.2L-303.5,243.7L-305.2,240.8L-307.2,237.3L-308.9,234.8L-309.7,230.2L-311.7,224.3L-310.6,222.6L-309.4,219.2L-308.0,215.5L-306.9,212.1L-307.2,208.9L-306.0,206.1L-308.0,206.1L-310.3,205.4L-312.3,207.2L-315.1,207.9L-317.1,207.5L-320.8,205.4L-322.2,206.4L-323.4,207.5L-325.7,207.2L-328.5,205.7L-330.8,204.7L-331.6,202.2L-333.3,200.0L-332.8,198.2L-333.6,195.6L-334.5,193.8L-333.1,192.3L-335.0,190.8L-337.9,190.4L-340.7,190.8L-343.9,191.5L-344.7,193.8L-343.9,196.4L-342.7,197.5L-344.4,198.2L-343.0,200.0L-340.7,200.7L-343.6,201.4L-343.0,203.6L-344.1,206.4L-345.3,206.4L-346.7,205.0L-347.6,202.9L-349.0,201.4L-348.1,200.0L-349.6,198.5L-350.1,197.1L-351.8,195.2L-353.8,192.6L-353.8,190.0L-353.5,187.0L-355.2,185.1L-356.4,184.3L-359.2,182.4L-362.1,180.4L-363.8,179.6L-365.8,177.7L-366.6,175.3L-368.3,173.2L-370.3,174.5L-370.0,172.0L-371.7,171.6L-373.7,172.8L-374.0,175.3L-373.7,177.7L-372.0,179.2L-370.3,180.4L-369.2,183.5L-367.2,185.8L-364.9,186.6L-363.2,187.8L-360.9,189.3L-358.1,191.2L-356.4,193.0L-356.9,194.5L-359.8,192.3L-360.9,192.3L-361.8,193.8L-361.8,196.0L-360.4,197.8L-361.8,199.3L-363.2,201.1L-364.3,201.3L-364.3,200.0L-363.2,197.8L-364.3,195.2L-364.6,193.4L-366.3,193.0L-367.8,191.5L-368.9,190.8L-370.0,189.3L-372.0,188.9L-373.4,187.4L-375.4,185.8L-377.4,184.7L-379.1,182.8L-379.7,180.4L-381.1,178.1L-383.4,176.9L-385.1,177.7L-387.1,179.2L-389.1,180.4L-390.2,181.6L-391.9,182.0L-393.9,181.2L-395.9,180.8L-397.6,180.4L-399.9,181.6L-400.5,183.5L-399.9,185.1L-399.9,186.6L-402.7,188.5L-406.2,190.0L-407.0,191.2L-409.0,194.1L-409.9,196.0L-408.4,198.2L-410.1,200.0L-411.0,202.5L-412.7,202.9L-414.4,205.0L-415.8,205.4L-418.7,205.7L-421.5,205.7L-423.2,206.4L-424.1,207.9ZM1623.1,208.2L1621.1,206.1L1619.1,204.0L1616.5,204.7L1613.7,204.7L1614.0,201.1L1612.8,198.5L1612.0,198.2L1613.4,195.2L1614.0,191.2L1613.7,187.0L1613.7,183.9L1612.5,182.4L1615.7,180.0L1619.1,180.0L1623.4,180.0L1628.2,180.6L1633.9,180.8L1635.3,176.9L1635.6,171.2L1633.0,166.3L1630.5,164.2L1626.5,162.9L1625.3,160.4L1627.6,159.1L1630.5,158.6L1634.4,159.1L1633.6,154.7L1635.3,155.1L1638.4,156.5L1639.6,154.7L1643.0,152.9L1643.6,149.4L1646.1,148.5L1649.2,147.1L1650.9,144.8L1652.4,140.1L1654.1,137.8L1658.3,137.3L1661.8,136.8L1663.7,135.4L1664.3,133.4L1663.5,128.0L1662.0,125.0L1662.3,120.3L1663.5,119.3L1667.4,116.7L1669.2,116.1L1668.6,119.8L1668.3,122.4L1670.0,123.4L1668.0,126.0L1666.9,130.0L1667.7,132.5L1670.0,132.9L1671.7,134.9L1674.6,132.9L1677.7,132.5L1679.4,135.4L1683.1,133.9L1687.4,131.5L1691.3,131.0L1692.2,132.9L1694.8,132.7L1697.3,130.5L1699.3,129.0L1699.0,125.0L1698.7,120.9L1700.4,117.7L1703.3,115.9L1705.3,119.8L1707.6,119.8L1708.4,115.1L1706.1,112.4L1705.8,109.1L1709.0,106.3L1714.4,105.7L1718.6,106.3L1721.5,104.0L1725.2,103.8L1722.1,102.3L1718.6,100.6L1714.4,101.2L1710.1,102.3L1705.8,103.8L1704.1,104.6L1702.4,101.2L1699.9,99.4L1699.9,94.7L1700.2,89.3L1699.3,85.6L1702.4,81.8L1706.7,77.2L1709.5,73.3L1711.2,71.2L1711.0,68.5L1708.7,67.1L1704.4,67.1L1702.1,68.5L1699.6,73.3L1698.7,77.2L1696.7,80.5L1693.6,83.7L1691.1,86.8L1688.8,89.9L1687.9,94.7L1688.2,99.4L1691.6,102.3L1692.8,104.6L1691.1,107.4L1687.9,110.2L1686.2,115.1L1685.9,119.8L1684.8,123.4L1683.1,124.2L1680.2,125.0L1679.4,128.0L1676.0,128.0L1675.7,126.0L1674.8,123.9L1675.4,121.9L1673.1,117.7L1672.6,114.5L1671.1,110.2L1670.6,108.5L1669.2,104.6L1669.4,104.0L1668.0,109.1L1666.0,109.6L1663.2,112.9L1660.3,114.5L1657.8,114.0L1654.9,110.7L1654.6,107.4L1653.2,103.5L1652.9,98.9L1653.2,94.7L1653.8,90.5L1656.6,88.1L1660.3,85.6L1663.2,82.4L1666.9,79.8L1669.7,75.3L1673.1,69.9L1674.6,64.3L1677.4,57.1L1681.1,51.9L1683.1,48.1L1685.9,46.5L1688.8,41.0L1692.5,36.9L1697.3,34.4L1701.6,31.9L1707.3,27.6L1712.4,25.9L1717.2,26.7L1720.9,28.5L1724.3,31.9L1727.2,35.3L1728.6,36.9L1732.9,40.2L1738.6,41.8L1745.7,46.5L1752.2,51.2L1755.6,56.4L1756.2,60.0L1752.8,63.6L1748.5,65.0L1742.8,63.6L1738.0,61.5L1734.3,61.5L1731.4,58.6L1735.1,63.6L1738.0,67.1L1737.4,75.3L1741.4,79.2L1745.7,80.5L1751.4,75.3L1754.2,75.3L1754.2,71.2L1758.5,62.9L1764.2,65.0L1764.7,54.2L1762.4,45.8L1767.0,47.3L1771.3,52.7L1775.5,53.4L1781.2,51.2L1786.9,47.3L1791.2,44.2L1795.4,48.1L1801.1,46.5L1805.4,43.4L1809.7,37.7L1811.1,44.2L1815.4,38.6L1822.5,41.0L1828.2,39.4L1831.0,45.0L1829.0,35.3L1829.6,26.7L1833.3,15.9L1835.3,8.3L1839.5,3.4L1842.4,10.3L1845.2,17.8L1846.1,26.7L1845.2,35.3L1848.1,43.4L1848.1,51.2L1846.6,58.6L1850.9,54.9L1852.3,47.3L1850.9,39.4L1849.5,31.1L1850.9,22.3L1855.2,15.9L1862.3,15.0L1868.0,17.8L1869.4,22.3L1873.7,26.7L1870.8,11.2L1868.0,3.4L1875.1,-1.7L1885.0,-6.9L1887.9,-14.6L1897.8,-21.4L1909.2,-23.7L1923.4,-29.7L1935.7,-45.0L1940.5,-38.4L1944.8,-29.7L1954.7,-30.9L1961.8,-17.9L1960.4,-1.7L1954.7,2.4L1961.8,2.4L1969.0,2.4L1977.5,7.3L1986.0,8.3L1991.7,2.4L1998.8,3.4L2004.5,10.3L2007.4,17.8L2011.6,26.7L2017.3,22.3L2025.8,21.4L2034.4,15.9L2038.6,13.1L2045.8,11.2L2054.3,15.0L2064.2,16.9L2069.9,24.1L2075.6,27.6L2085.6,26.7L2092.7,29.3L2097.0,38.6L2105.5,37.7L2115.4,36.9L2121.1,36.9L2124.0,34.4L2131.1,36.1L2139.6,36.9L2145.3,41.0L2151.0,44.2L2156.7,49.6L2163.8,54.9L2169.5,58.6L2173.8,61.5L2180.3,65.0L2176.6,68.5L2172.3,71.2L2170.9,75.9L2168.1,77.2L2163.8,73.9L2159.5,70.6L2153.8,72.6L2148.2,74.6L2143.9,76.6L2143.9,85.6L2148.2,89.9L2141.0,91.7L2135.4,92.9L2131.1,97.7L2125.4,101.8L2122.6,104.0L2116.9,101.8L2111.7,104.0L2108.3,101.8L2104.1,104.0L2102.6,109.1L2099.8,113.4L2102.6,117.2L2101.2,123.4L2099.2,128.5L2095.5,132.5L2093.5,138.7L2089.8,140.6L2088.4,144.3L2084.7,148.9L2084.2,145.3L2082.7,139.7L2081.6,132.5L2081.9,125.0L2084.2,118.8L2087.0,115.6L2089.8,113.4L2094.1,106.3L2098.4,101.8L2102.6,95.9L2104.1,88.7L2097.0,97.7L2092.7,93.5L2085.6,94.1L2079.9,103.5L2077.0,107.4L2071.4,109.1L2067.1,105.7L2061.4,107.4L2054.3,107.4L2047.2,107.4L2042.9,109.1L2038.6,114.5L2033.0,120.9L2028.7,130.0L2028.7,134.9L2033.8,133.9L2038.1,135.9L2041.2,139.7L2040.9,144.3L2038.9,148.9L2038.6,155.6L2037.8,160.4L2034.4,165.4L2030.1,171.2L2025.8,176.5L2023.0,180.0L2018.7,183.1L2014.5,181.6L2012.5,183.9L2010.8,185.1L2008.8,188.1L2007.9,190.8L2004.5,193.8L2001.7,195.2L2001.7,197.5L2004.2,199.3L2005.9,202.5L2007.1,206.1L2007.4,209.6L2006.5,211.2L2004.5,212.1L2001.7,213.1L1999.1,213.8L1998.3,212.4L1998.8,208.9L1999.7,206.4L1998.8,204.3L1999.1,202.2L1996.0,202.2L1994.0,200.7L1995.4,197.5L1994.0,195.2L1992.3,194.1L1988.9,194.9L1986.0,196.4L1984.0,197.8L1985.5,195.6L1986.6,192.6L1984.6,190.4L1981.8,192.6L1978.9,194.5L1976.1,197.1L1974.1,197.8L1973.5,200.0L1975.5,201.8L1977.5,204.0L1981.2,202.5L1984.6,202.9L1987.4,204.7L1983.7,206.1L1981.8,207.9L1978.9,210.7L1978.6,212.7L1981.2,215.2L1982.9,220.3L1985.5,222.6L1985.7,225.6L1984.0,227.3L1986.0,228.9L1985.7,231.8L1983.7,234.1L1981.8,237.3L1979.8,239.9L1978.9,243.0L1976.9,244.9L1974.6,246.5L1971.8,249.0L1969.0,251.2L1966.1,251.8L1963.8,253.0L1961.3,253.9L1957.6,254.8L1954.2,256.1L1952.5,258.2L1953.3,259.4L1951.3,259.1L1951.0,255.5L1947.6,255.2L1944.8,255.8L1942.5,258.2L1940.5,260.3L1939.7,263.0L1941.9,266.0L1943.6,268.7L1947.1,272.0L1948.8,274.3L1949.9,279.0L1949.6,283.7L1948.5,285.7L1945.6,287.8L1942.5,288.9L1941.9,291.0L1939.1,293.3L1937.1,293.5L1937.1,291.0L1937.4,288.6L1935.7,288.1L1933.4,287.8L1932.0,285.7L1930.8,283.4L1928.6,282.0L1926.0,281.4L1926.0,279.3L1923.7,279.6L1923.2,282.6L1921.2,287.2L1921.5,291.0L1924.0,294.4L1924.9,297.3L1927.1,298.4L1929.7,300.4L1932.3,303.0L1933.4,306.1L1933.1,309.8L1935.4,313.5L1933.4,314.4L1931.4,312.7L1927.4,310.1L1926.0,307.3L1924.3,303.9L1924.0,300.1L1922.6,298.1L1920.0,295.6L1918.6,294.7L1919.2,291.0L1919.5,288.1L1919.7,284.3L1918.6,279.3L1917.2,274.9L1916.3,270.8L1914.3,269.3L1912.1,270.8L1910.4,272.6L1908.1,272.0L1907.2,269.0L1906.9,264.8L1905.2,262.1L1903.5,260.0L1901.8,257.9L1900.7,255.5L1900.1,252.7L1897.8,252.1L1896.4,253.6L1894.4,254.5L1892.2,254.8L1889.6,254.8L1887.3,256.1L1886.2,258.2L1884.8,260.3L1881.6,261.8L1879.4,264.2L1876.8,266.3L1873.7,269.0L1872.8,270.5L1870.3,272.0L1867.7,273.5L1867.1,277.0L1867.4,280.5L1866.3,283.7L1866.0,286.6L1864.6,288.6L1863.4,291.0L1861.7,292.7L1859.4,295.0L1857.5,293.3L1856.0,290.1L1854.6,286.0L1852.9,282.8L1851.5,279.3L1850.3,276.4L1848.9,273.2L1847.8,269.6L1846.6,266.0L1846.1,263.0L1846.1,259.1L1845.5,256.1L1844.4,253.3L1843.2,256.4L1840.7,257.6L1837.5,255.8L1835.3,253.0L1837.5,251.5L1835.8,251.5L1833.6,249.3L1831.3,248.1L1829.6,245.2L1828.2,243.4L1823.9,243.7L1819.6,244.0L1815.4,244.3L1813.9,244.0L1811.1,243.4L1808.2,243.4L1805.4,242.7L1802.6,242.1L1801.7,239.9L1800.6,238.0L1798.6,237.6L1796.9,239.2L1794.0,239.6L1791.2,238.6L1788.3,237.0L1785.5,235.4L1783.5,232.5L1782.1,230.2L1780.7,228.2L1778.4,228.6L1777.0,228.9L1775.5,229.2L1775.2,231.2L1776.7,233.5L1778.4,236.0L1780.1,238.6L1781.8,240.5L1782.9,243.0L1783.5,245.2L1784.1,241.5L1785.5,241.2L1785.8,244.0L1785.5,245.9L1788.3,247.1L1791.2,247.4L1794.0,246.8L1796.9,243.7L1798.3,241.5L1799.4,240.5L1799.1,242.7L1799.4,245.2L1800.8,247.1L1803.4,248.7L1805.7,249.0L1808.0,251.8L1809.1,252.7L1807.7,255.8L1805.7,258.5L1803.4,260.6L1803.1,263.3L1800.0,265.1L1796.9,266.9L1794.3,269.0L1791.2,269.9L1787.5,272.9L1784.1,274.6L1779.8,276.1L1777.0,277.9L1772.7,279.3L1768.4,280.8L1765.6,281.7L1762.7,281.7L1761.9,279.9L1760.7,276.4L1760.5,273.5L1760.2,270.5L1757.9,267.5L1755.6,264.2L1753.6,260.6L1751.4,257.6L1750.2,254.8L1749.4,251.8L1747.9,248.7L1745.7,246.2L1744.5,243.7L1742.8,240.8L1740.8,237.3L1739.1,234.8L1738.3,230.2L1736.3,224.3L1737.4,222.6L1738.6,219.2L1740.0,215.5L1741.1,212.1L1740.8,208.9L1742.0,206.1L1740.0,206.1L1737.7,205.4L1735.7,207.2L1732.9,207.9L1730.9,207.5L1727.2,205.4L1725.8,206.4L1724.6,207.5L1722.3,207.2L1719.5,205.7L1717.2,204.7L1716.4,202.2L1714.7,200.0L1715.2,198.2L1714.4,195.6L1713.5,193.8L1714.9,192.3L1713.0,190.8L1710.1,190.4L1707.3,190.8L1704.1,191.5L1703.3,193.8L1704.1,196.4L1705.3,197.5L1703.6,198.2L1705.0,200.0L1707.3,200.7L1704.4,201.4L1705.0,203.6L1703.9,206.4L1702.7,206.4L1701.3,205.0L1700.4,202.9L1699.0,201.4L1699.9,200.0L1698.4,198.5L1697.9,197.1L1696.2,195.2L1694.2,192.6L1694.2,190.0L1694.5,187.0L1692.8,185.1L1691.6,184.3L1688.8,182.4L1685.9,180.4L1684.2,179.6L1682.2,177.7L1681.4,175.3L1679.7,173.2L1677.7,174.5L1678.0,172.0L1676.3,171.6L1674.3,172.8L1674.0,175.3L1674.3,177.7L1676.0,179.2L1677.7,180.4L1678.8,183.5L1680.8,185.8L1683.1,186.6L1684.8,187.8L1687.1,189.3L1689.9,191.2L1691.6,193.0L1691.1,194.5L1688.2,192.3L1687.1,192.3L1686.2,193.8L1686.2,196.0L1687.6,197.8L1686.2,199.3L1684.8,201.1L1683.7,201.3L1683.7,200.0L1684.8,197.8L1683.7,195.2L1683.4,193.4L1681.7,193.0L1680.2,191.5L1679.1,190.8L1678.0,189.3L1676.0,188.9L1674.6,187.4L1672.6,185.8L1670.6,184.7L1668.9,182.8L1668.3,180.4L1666.9,178.1L1664.6,176.9L1662.9,177.7L1660.9,179.2L1658.9,180.4L1657.8,181.6L1656.1,182.0L1654.1,181.2L1652.1,180.8L1650.4,180.4L1648.1,181.6L1647.5,183.5L1648.1,185.1L1648.1,186.6L1645.3,188.5L1641.8,190.0L1641.0,191.2L1639.0,194.1L1638.1,196.0L1639.6,198.2L1637.9,200.0L1637.0,202.5L1635.3,202.9L1633.6,205.0L1632.2,205.4L1629.3,205.7L1626.5,205.7L1624.8,206.4L1623.9,207.9ZM938.4,381.7L939.8,394.7L937.8,394.7L941.0,403.7L942.1,409.3L944.1,414.3L942.4,419.7L942.4,422.4L950.4,424.8L956.3,420.7L961.7,420.7L966.3,420.7L973.4,415.3L981.9,412.9L989.0,412.6L996.2,415.9L1000.4,424.1L1003.6,418.3L1007.0,416.3L1006.1,422.8L1009.0,426.2L1009.0,424.1L1012.4,431.5L1015.5,435.5L1023.2,438.0L1027.2,434.4L1031.4,439.1L1036.0,434.4L1041.7,433.3L1042.2,426.9L1045.1,420.7L1048.8,415.6L1051.9,403.1L1050.8,393.2L1049.6,392.5L1045.4,387.8L1043.9,383.8L1039.4,379.5L1038.0,377.1L1032.6,373.9L1031.1,373.2L1029.7,366.9L1028.6,366.9L1028.3,361.3L1023.2,358.3L1020.3,348.7L1017.8,354.8L1017.5,361.3L1015.5,368.4L1011.8,368.7L1006.1,364.2L1001.8,359.8L1004.1,353.1L1000.4,352.5L991.9,351.0L987.6,353.4L987.1,353.9L983.4,361.0L980.5,361.0L976.2,358.0L970.6,360.1L966.3,365.7L962.6,370.2L959.2,375.0L952.4,377.1L946.9,378.0L941.0,381.7ZM-85.6,381.7L-84.2,394.7L-86.2,394.7L-83.0,403.7L-81.9,409.3L-79.9,414.3L-81.6,419.7L-81.6,422.4L-73.6,424.8L-67.7,420.7L-62.3,420.7L-57.7,420.7L-50.6,415.3L-42.1,412.9L-35.0,412.6L-27.8,415.9L-23.6,424.1L-20.4,418.3L-17.0,416.3L-17.9,422.8L-15.0,426.2L-15.0,424.1L-11.6,431.5L-8.5,435.5L-0.8,438.0L3.2,434.4L7.4,439.1L12.0,434.4L17.7,433.3L18.2,426.9L21.1,420.7L24.8,415.6L27.9,403.1L26.8,393.2L25.6,392.5L21.4,387.8L19.9,383.8L15.4,379.5L14.0,377.1L8.6,373.9L7.1,373.2L5.7,366.9L4.6,366.9L4.3,361.3L-0.8,358.3L-3.7,348.7L-6.2,354.8L-6.5,361.3L-8.5,368.4L-12.2,368.7L-17.9,364.2L-22.2,359.8L-19.9,353.1L-23.6,352.5L-32.1,351.0L-36.4,353.4L-36.9,353.9L-40.6,361.0L-43.5,361.0L-47.8,358.0L-53.4,360.1L-57.7,365.7L-61.4,370.2L-64.8,375.0L-71.6,377.1L-77.1,378.0L-83.0,381.7ZM1962.4,381.7L1963.8,394.7L1961.8,394.7L1965.0,403.7L1966.1,409.3L1968.1,414.3L1966.4,419.7L1966.4,422.4L1974.4,424.8L1980.3,420.7L1985.7,420.7L1990.3,420.7L1997.4,415.3L2005.9,412.9L2013.0,412.6L2020.2,415.9L2024.4,424.1L2027.6,418.3L2031.0,416.3L2030.1,422.8L2033.0,426.2L2033.0,424.1L2036.4,431.5L2039.5,435.5L2047.2,438.0L2051.2,434.4L2055.4,439.1L2060.0,434.4L2065.7,433.3L2066.2,426.9L2069.1,420.7L2072.8,415.6L2075.9,403.1L2074.8,393.2L2073.6,392.5L2069.4,387.8L2067.9,383.8L2063.4,379.5L2062.0,377.1L2056.6,373.9L2055.1,373.2L2053.7,366.9L2052.6,366.9L2052.3,361.3L2047.2,358.3L2044.3,348.7L2041.8,354.8L2041.5,361.3L2039.5,368.4L2035.8,368.7L2030.1,364.2L2025.8,359.8L2028.1,353.1L2024.4,352.5L2015.9,351.0L2011.6,353.4L2011.1,353.9L2007.4,361.0L2004.5,361.0L2000.2,358.0L1994.6,360.1L1990.3,365.7L1986.6,370.2L1983.2,375.0L1976.4,377.1L1970.9,378.0L1965.0,381.7ZM258.6,17.8L262.3,26.7L269.4,25.0L273.7,19.6L277.9,13.1L280.8,4.4L286.5,2.4L279.4,-4.8L269.4,-6.9L260.6,-3.8L258.0,8.3ZM-765.4,17.8L-761.7,26.7L-754.6,25.0L-750.3,19.6L-746.1,13.1L-743.2,4.4L-737.5,2.4L-744.6,-4.8L-754.6,-6.9L-763.4,-3.8L-766.0,8.3ZM1282.6,17.8L1286.3,26.7L1293.4,25.0L1297.7,19.6L1301.9,13.1L1304.8,4.4L1310.5,2.4L1303.4,-4.8L1293.4,-6.9L1284.6,-3.8L1282.0,8.3ZM276.5,24.1L279.4,31.1L282.2,35.3L287.9,41.8L302.1,46.5L313.5,45.0L322.0,45.0L326.3,40.2L324.9,31.1L317.8,25.0L314.9,13.1L310.6,6.4L302.1,9.3L292.2,8.3L286.5,13.1L280.8,17.8ZM-747.5,24.1L-744.6,31.1L-741.8,35.3L-736.1,41.8L-721.9,46.5L-710.5,45.0L-702.0,45.0L-697.7,40.2L-699.1,31.1L-706.2,25.0L-709.1,13.1L-713.4,6.4L-721.9,9.3L-731.8,8.3L-737.5,13.1L-743.2,17.8ZM1300.5,24.1L1303.4,31.1L1306.2,35.3L1311.9,41.8L1326.1,46.5L1337.5,45.0L1346.0,45.0L1350.3,40.2L1348.9,31.1L1341.8,25.0L1338.9,13.1L1334.6,6.4L1326.1,9.3L1316.2,8.3L1310.5,13.1L1304.8,17.8ZM340.5,17.8L334.8,24.1L329.1,19.6L323.4,12.2L327.7,6.4L336.2,-0.7L339.1,5.4ZM-683.5,17.8L-689.2,24.1L-694.9,19.6L-700.6,12.2L-696.3,6.4L-687.8,-0.7L-684.9,5.4ZM1364.5,17.8L1358.8,24.1L1353.1,19.6L1347.4,12.2L1351.7,6.4L1360.2,-0.7L1363.1,5.4ZM349.0,17.8L343.4,11.2L344.8,0.4L350.5,-2.7L357.6,0.4L354.7,10.3ZM-675.0,17.8L-680.6,11.2L-679.2,0.4L-673.5,-2.7L-666.4,0.4L-669.3,10.3ZM1373.0,17.8L1367.4,11.2L1368.8,0.4L1374.5,-2.7L1381.6,0.4L1378.7,10.3ZM332.0,44.2L337.7,46.5L340.5,39.4L337.7,36.1L333.4,38.6ZM-692.0,44.2L-686.3,46.5L-683.5,39.4L-686.3,36.1L-690.6,38.6ZM1356.0,44.2L1361.7,46.5L1364.5,39.4L1361.7,36.1L1357.4,38.6ZM367.5,81.1L376.1,81.1L384.6,77.2L378.9,69.2L371.8,63.6L366.1,71.2ZM-656.5,81.1L-647.9,81.1L-639.4,77.2L-645.1,69.2L-652.2,63.6L-657.9,71.2ZM1391.5,81.1L1400.1,81.1L1408.6,77.2L1402.9,69.2L1395.8,63.6L1390.1,71.2ZM438.9,61.5L433.0,51.9L423.0,41.8L415.9,32.8L404.5,22.3L393.1,12.2L384.6,2.4L369.0,5.4L360.4,2.4L363.3,26.7L371.8,35.3L381.8,39.4L391.7,40.2L398.8,47.3L403.1,58.6L407.4,62.2L394.6,70.6L398.8,77.2L408.8,77.9L415.9,86.8L425.8,91.7L431.0,86.2L428.7,74.6L434.4,72.6ZM-585.1,61.5L-591.0,51.9L-601.0,41.8L-608.1,32.8L-619.5,22.3L-630.9,12.2L-639.4,2.4L-655.0,5.4L-663.6,2.4L-660.7,26.7L-652.2,35.3L-642.2,39.4L-632.3,40.2L-625.2,47.3L-620.9,58.6L-616.6,62.2L-629.4,70.6L-625.2,77.2L-615.2,77.9L-608.1,86.8L-598.2,91.7L-593.0,86.2L-595.3,74.6L-589.6,72.6ZM1462.9,61.5L1457.0,51.9L1447.0,41.8L1439.9,32.8L1428.5,22.3L1417.1,12.2L1408.6,2.4L1393.0,5.4L1384.4,2.4L1387.3,26.7L1395.8,35.3L1405.8,39.4L1415.7,40.2L1422.8,47.3L1427.1,58.6L1431.4,62.2L1418.6,70.6L1422.8,77.2L1432.8,77.9L1439.9,86.8L1449.8,91.7L1455.0,86.2L1452.7,74.6L1458.4,72.6ZM386.0,1.4L393.1,-0.7L397.4,6.4L391.7,10.3L386.0,6.4ZM-638.0,1.4L-630.9,-0.7L-626.6,6.4L-632.3,10.3L-638.0,6.4ZM1410.0,1.4L1417.1,-0.7L1421.4,6.4L1415.7,10.3L1410.0,6.4ZM353.3,-8.0L373.2,-5.9L387.4,-6.9L387.4,-23.7L353.3,-23.7ZM-670.7,-8.0L-650.8,-5.9L-636.6,-6.9L-636.6,-23.7L-670.7,-23.7ZM1377.3,-8.0L1397.2,-5.9L1411.4,-6.9L1411.4,-23.7L1377.3,-23.7ZM282.2,-10.2L316.3,-11.3L316.3,-23.7L282.2,-23.7ZM-741.8,-10.2L-707.7,-11.3L-707.7,-23.7L-741.8,-23.7ZM1306.2,-10.2L1340.3,-11.3L1340.3,-23.7L1306.2,-23.7ZM446.3,163.8L455.7,163.8L464.0,167.5L464.8,162.9L462.8,156.9L457.1,155.1L457.1,146.2L452.3,150.3L449.5,157.8ZM-577.7,163.8L-568.3,163.8L-560.0,167.5L-559.2,162.9L-561.2,156.9L-566.9,155.1L-566.9,146.2L-571.7,150.3L-574.5,157.8ZM1470.3,163.8L1479.7,163.8L1488.0,167.5L1488.8,162.9L1486.8,156.9L1481.1,155.1L1481.1,146.2L1476.3,150.3L1473.5,157.8ZM249.8,149.8L253.8,152.9L258.0,157.8L264.0,160.8L263.7,157.8L259.4,153.4L253.8,149.4ZM-774.2,149.8L-770.2,152.9L-766.0,157.8L-760.0,160.8L-760.3,157.8L-764.6,153.4L-770.2,149.4ZM1273.8,149.8L1277.8,152.9L1282.0,157.8L1288.0,160.8L1287.7,157.8L1283.4,153.4L1277.8,149.4ZM236.7,133.9L239.5,134.9L242.4,143.4L240.7,144.3L236.7,137.3ZM-787.3,133.9L-784.5,134.9L-781.6,143.4L-783.3,144.3L-787.3,137.3ZM1260.7,133.9L1263.5,134.9L1266.4,143.4L1264.7,144.3L1260.7,137.3ZM175.5,119.8L181.5,116.7L178.4,114.5L174.7,116.7ZM-848.5,119.8L-842.5,116.7L-845.6,114.5L-849.3,116.7ZM1199.5,119.8L1205.5,116.7L1202.4,114.5L1198.7,116.7ZM404.5,191.5L410.2,190.4L410.5,189.6L405.9,190.4ZM-619.5,191.5L-613.8,190.4L-613.5,189.6L-618.1,190.4ZM1428.5,191.5L1434.2,190.4L1434.5,189.6L1429.9,190.4ZM373.5,254.2L378.9,251.2L383.2,250.5L387.4,250.5L391.7,252.7L395.4,255.2L400.0,256.7L404.2,259.4L400.2,260.3L395.4,260.3L394.0,257.9L390.3,255.2L384.6,253.9L380.3,253.0L376.1,254.2ZM-650.5,254.2L-645.1,251.2L-640.8,250.5L-636.6,250.5L-632.3,252.7L-628.6,255.2L-624.0,256.7L-619.8,259.4L-623.8,260.3L-628.6,260.3L-630.0,257.9L-633.7,255.2L-639.4,253.9L-643.7,253.0L-647.9,254.2ZM1397.5,254.2L1402.9,251.2L1407.2,250.5L1411.4,250.5L1415.7,252.7L1419.4,255.2L1424.0,256.7L1428.2,259.4L1424.2,260.3L1419.4,260.3L1418.0,257.9L1414.3,255.2L1408.6,253.9L1404.3,253.0L1400.1,254.2ZM403.4,264.8L407.9,260.3L415.9,260.9L420.7,264.2L415.9,265.4L411.6,266.9L407.9,265.7ZM-620.6,264.8L-616.1,260.3L-608.1,260.9L-603.3,264.2L-608.1,265.4L-612.4,266.9L-616.1,265.7ZM1427.4,264.8L1431.9,260.3L1439.9,260.9L1444.7,264.2L1439.9,265.4L1435.6,266.9L1431.9,265.7ZM392.0,264.8L398.3,266.0L397.4,266.3L393.7,266.3L392.3,265.4ZM-632.0,264.8L-625.7,266.0L-626.6,266.3L-630.3,266.3L-631.7,265.4ZM1416.0,264.8L1422.3,266.0L1421.4,266.3L1417.7,266.3L1416.3,265.4ZM423.9,264.5L428.4,264.8L428.1,266.0L423.9,266.0ZM-600.1,264.5L-595.6,264.8L-595.9,266.0L-600.1,266.0ZM1447.9,264.5L1452.4,264.8L1452.1,266.0L1447.9,266.0ZM393.1,238.9L396.0,239.6L395.4,242.1L393.4,239.9ZM-630.9,238.9L-628.0,239.6L-628.6,242.1L-630.6,239.9ZM1417.1,238.9L1420.0,239.6L1419.4,242.1L1417.4,239.9ZM392.6,244.0L394.0,246.2L393.7,247.7L392.0,245.9ZM-631.4,244.0L-630.0,246.2L-630.3,247.7L-632.0,245.9ZM1416.6,244.0L1418.0,246.2L1417.7,247.7L1416.0,245.9ZM598.8,153.2L605.0,152.1L610.7,150.3L619.0,148.0L620.0,142.0L615.9,138.7L614.7,134.9L611.6,132.0L610.4,127.0L607.9,124.5L609.9,117.2L605.9,111.3L600.8,111.3L599.4,118.2L597.4,122.4L599.4,128.0L600.8,131.0L605.6,130.5L605.0,134.9L606.5,137.8L601.9,138.2L603.1,143.0L599.9,145.3L605.9,147.1L602.2,148.5ZM-425.2,153.2L-419.0,152.1L-413.3,150.3L-405.0,148.0L-404.0,142.0L-408.1,138.7L-409.3,134.9L-412.4,132.0L-413.6,127.0L-416.1,124.5L-414.1,117.2L-418.1,111.3L-423.2,111.3L-424.6,118.2L-426.6,122.4L-424.6,128.0L-423.2,131.0L-418.4,130.5L-419.0,134.9L-417.5,137.8L-422.1,138.2L-420.9,143.0L-424.1,145.3L-418.1,147.1L-421.8,148.5ZM1622.8,153.2L1629.0,152.1L1634.7,150.3L1643.0,148.0L1644.0,142.0L1639.9,138.7L1638.7,134.9L1635.6,132.0L1634.4,127.0L1631.9,124.5L1633.9,117.2L1629.9,111.3L1624.8,111.3L1623.4,118.2L1621.4,122.4L1623.4,128.0L1624.8,131.0L1629.6,130.5L1629.0,134.9L1630.5,137.8L1625.9,138.2L1627.1,143.0L1623.9,145.3L1629.9,147.1L1626.2,148.5ZM596.8,143.4L597.9,138.2L597.4,134.9L599.4,132.9L597.9,129.0L594.2,128.0L591.4,129.0L590.3,133.4L586.6,133.9L586.6,137.8L588.3,141.6L585.4,144.8L587.7,146.6L591.4,145.3ZM-427.2,143.4L-426.1,138.2L-426.6,134.9L-424.6,132.9L-426.1,129.0L-429.8,128.0L-432.6,129.0L-433.7,133.4L-437.4,133.9L-437.4,137.8L-435.7,141.6L-438.6,144.8L-436.3,146.6L-432.6,145.3ZM1620.8,143.4L1621.9,138.2L1621.4,134.9L1623.4,132.9L1621.9,129.0L1618.2,128.0L1615.4,129.0L1614.3,133.4L1610.6,133.9L1610.6,137.8L1612.3,141.6L1609.4,144.8L1611.7,146.6L1615.4,145.3ZM552.4,79.2L546.7,73.3L551.3,68.5L546.7,64.3L551.0,62.9L563.8,64.3L572.3,62.2L576.6,71.2L572.3,77.2L561.8,83.0L555.3,80.5ZM-471.6,79.2L-477.3,73.3L-472.7,68.5L-477.3,64.3L-473.0,62.9L-460.2,64.3L-451.7,62.2L-447.4,71.2L-451.7,77.2L-462.2,83.0L-468.7,80.5ZM1576.4,79.2L1570.7,73.3L1575.3,68.5L1570.7,64.3L1575.0,62.9L1587.8,64.3L1596.3,62.2L1600.6,71.2L1596.3,77.2L1585.8,83.0L1579.3,80.5ZM646.3,128.0L650.6,127.0L650.8,125.0L650.0,124.5L646.3,125.5ZM-377.7,128.0L-373.4,127.0L-373.2,125.0L-374.0,124.5L-377.7,125.5ZM1670.3,128.0L1674.6,127.0L1674.8,125.0L1674.0,124.5L1670.3,125.5ZM642.6,129.5L645.7,129.5L645.4,127.0L643.4,127.0ZM-381.4,129.5L-378.3,129.5L-378.6,127.0L-380.6,127.0ZM1666.6,129.5L1669.7,129.5L1669.4,127.0L1667.4,127.0ZM666.5,119.8L669.0,115.1L668.2,118.8ZM-357.5,119.8L-355.0,115.1L-355.8,118.8ZM1690.5,119.8L1693.0,115.1L1692.2,118.8ZM650.3,201.8L652.8,200.4L659.4,200.0L658.0,203.6L658.0,205.7L655.7,204.7L650.8,202.5ZM-373.7,201.8L-371.2,200.4L-364.6,200.0L-366.0,203.6L-366.0,205.7L-368.3,204.7L-373.2,202.5ZM1674.3,201.8L1676.8,200.4L1683.4,200.0L1682.0,203.6L1682.0,205.7L1679.7,204.7L1674.8,202.5ZM638.9,197.5L638.3,191.5L639.5,189.6L642.3,189.6L642.9,193.0L642.3,197.1L640.3,197.8ZM-385.1,197.5L-385.7,191.5L-384.5,189.6L-381.7,189.6L-381.1,193.0L-381.7,197.1L-383.7,197.8ZM1662.9,197.5L1662.3,191.5L1663.5,189.6L1666.3,189.6L1666.9,193.0L1666.3,197.1L1664.3,197.8ZM639.5,188.5L639.5,184.7L641.7,182.4L642.0,185.8L641.2,188.5ZM-384.5,188.5L-384.5,184.7L-382.3,182.4L-382.0,185.8L-382.8,188.5ZM1663.5,188.5L1663.5,184.7L1665.7,182.4L1666.0,185.8L1665.2,188.5ZM681.8,210.7L684.1,209.6L689.8,210.7L686.1,212.1L682.1,211.0ZM-342.2,210.7L-339.9,209.6L-334.2,210.7L-337.9,212.1L-341.9,211.0ZM1705.8,210.7L1708.1,209.6L1713.8,210.7L1710.1,212.1L1706.1,211.0ZM706.9,212.7L707.2,211.4L711.4,210.3L713.4,209.3L711.7,212.1L708.9,213.1ZM-317.1,212.7L-316.8,211.4L-312.6,210.3L-310.6,209.3L-312.3,212.1L-315.1,213.1ZM1730.9,212.7L1731.2,211.4L1735.4,210.3L1737.4,209.3L1735.7,212.1L1732.9,213.1ZM621.8,195.2L624.7,194.1L624.1,196.4ZM-402.2,195.2L-399.3,194.1L-399.9,196.4ZM1645.8,195.2L1648.7,194.1L1648.1,196.4ZM761.5,22.3L765.8,28.5L771.4,30.2L778.6,29.3L775.7,22.3L772.9,13.1L774.3,5.4L778.6,-6.9L782.8,-17.9L791.4,-29.7L774.3,-29.7L768.6,-12.3L765.8,3.4L762.9,15.0ZM-262.5,22.3L-258.2,28.5L-252.6,30.2L-245.4,29.3L-248.3,22.3L-251.1,13.1L-249.7,5.4L-245.4,-6.9L-241.2,-17.9L-232.6,-29.7L-249.7,-29.7L-255.4,-12.3L-258.2,3.4L-261.1,15.0ZM1785.5,22.3L1789.8,28.5L1795.4,30.2L1802.6,29.3L1799.7,22.3L1796.9,13.1L1798.3,5.4L1802.6,-6.9L1806.8,-17.9L1815.4,-29.7L1798.3,-29.7L1792.6,-12.3L1789.8,3.4L1786.9,15.0ZM1018.9,170.4L1023.2,169.6L1021.8,164.2L1022.3,156.9L1025.5,157.8L1023.2,151.2L1022.3,142.0L1022.0,133.4L1019.8,133.9L1019.5,144.3L1018.3,148.9L1018.9,159.9L1018.6,166.3ZM-5.1,170.4L-0.8,169.6L-2.2,164.2L-1.7,156.9L1.5,157.8L-0.8,151.2L-1.7,142.0L-2.0,133.4L-4.2,133.9L-4.5,144.3L-5.7,148.9L-5.1,159.9L-5.4,166.3ZM2042.9,170.4L2047.2,169.6L2045.8,164.2L2046.3,156.9L2049.5,157.8L2047.2,151.2L2046.3,142.0L2046.0,133.4L2043.8,133.9L2043.5,144.3L2042.3,148.9L2042.9,159.9L2042.6,166.3ZM1013.2,188.5L1016.6,187.0L1022.6,186.2L1028.9,181.6L1028.3,177.3L1024.6,178.1L1018.9,172.8L1017.8,173.7L1017.2,180.4L1014.1,181.2L1012.7,185.5ZM-10.8,188.5L-7.4,187.0L-1.4,186.2L4.9,181.6L4.3,177.3L0.6,178.1L-5.1,172.8L-6.2,173.7L-6.8,180.4L-9.9,181.2L-11.3,185.5ZM2037.2,188.5L2040.6,187.0L2046.6,186.2L2052.9,181.6L2052.3,177.3L2048.6,178.1L2042.9,172.8L2041.8,173.7L2041.2,180.4L2038.1,181.2L2036.7,185.5ZM1017.2,188.5L1018.9,195.6L1017.5,200.0L1016.1,202.9L1015.8,206.4L1015.2,209.3L1013.2,211.7L1010.4,212.7L1009.0,213.1L1004.7,213.1L1004.1,214.1L1001.3,216.9L999.3,214.1L993.3,213.8L987.6,215.2L987.3,214.1L989.0,212.7L993.3,210.0L999.0,209.3L1001.8,208.6L1004.1,204.0L1005.5,202.9L1009.0,203.2L1011.8,200.4L1013.2,195.6L1013.2,191.9L1014.1,189.6ZM-6.8,188.5L-5.1,195.6L-6.5,200.0L-7.9,202.9L-8.2,206.4L-8.8,209.3L-10.8,211.7L-13.6,212.7L-15.0,213.1L-19.3,213.1L-19.9,214.1L-22.7,216.9L-24.7,214.1L-30.7,213.8L-36.4,215.2L-36.7,214.1L-35.0,212.7L-30.7,210.0L-25.0,209.3L-22.2,208.6L-19.9,204.0L-18.5,202.9L-15.0,203.2L-12.2,200.4L-10.8,195.6L-10.8,191.9L-9.9,189.6ZM2041.2,188.5L2042.9,195.6L2041.5,200.0L2040.1,202.9L2039.8,206.4L2039.2,209.3L2037.2,211.7L2034.4,212.7L2033.0,213.1L2028.7,213.1L2028.1,214.1L2025.3,216.9L2023.3,214.1L2017.3,213.8L2011.6,215.2L2011.3,214.1L2013.0,212.7L2017.3,210.0L2023.0,209.3L2025.8,208.6L2028.1,204.0L2029.5,202.9L2033.0,203.2L2035.8,200.4L2037.2,195.6L2037.2,191.9L2038.1,189.6ZM984.2,217.9L985.3,215.5L987.6,215.5L989.9,218.2L989.0,221.9L987.9,224.3L986.5,225.3L985.3,223.9L985.3,220.3L983.6,217.9ZM-39.8,217.9L-38.7,215.5L-36.4,215.5L-34.1,218.2L-35.0,221.9L-36.1,224.3L-37.5,225.3L-38.7,223.9L-38.7,220.3L-40.4,217.9ZM2008.2,217.9L2009.3,215.5L2011.6,215.5L2013.9,218.2L2013.0,221.9L2011.9,224.3L2010.5,225.3L2009.3,223.9L2009.3,220.3L2007.6,217.9ZM991.9,217.5L993.3,215.2L997.6,214.5L998.1,215.8L996.7,217.9L994.2,217.2L992.7,219.2ZM-32.1,217.5L-30.7,215.2L-26.4,214.5L-25.9,215.8L-27.3,217.9L-29.8,217.2L-31.3,219.2ZM2015.9,217.5L2017.3,215.2L2021.6,214.5L2022.1,215.8L2020.7,217.9L2018.2,217.2L2016.7,219.2ZM959.2,244.0L962.0,244.6L960.6,249.3L958.9,253.9L956.9,251.5L956.6,249.3ZM-64.8,244.0L-62.0,244.6L-63.4,249.3L-65.1,253.9L-67.1,251.5L-67.4,249.3ZM1983.2,244.0L1986.0,244.6L1984.6,249.3L1982.9,253.9L1980.9,251.5L1980.6,249.3ZM923.9,262.4L926.5,265.4L929.3,263.9L930.7,260.9L929.3,259.7L926.5,260.0ZM-100.1,262.4L-97.5,265.4L-94.7,263.9L-93.3,260.9L-94.7,259.7L-97.5,260.0ZM1947.9,262.4L1950.5,265.4L1953.3,263.9L1954.7,260.9L1953.3,259.7L1950.5,260.0ZM842.0,300.7L842.6,297.3L842.0,293.8L842.8,290.1L846.0,293.5L847.7,297.3L846.0,300.4L844.3,301.3ZM-182.0,300.7L-181.4,297.3L-182.0,293.8L-181.2,290.1L-178.0,293.5L-176.3,297.3L-178.0,300.4L-179.7,301.3ZM1866.0,300.7L1866.6,297.3L1866.0,293.8L1866.8,290.1L1870.0,293.5L1871.7,297.3L1870.0,300.4L1868.3,301.3ZM958.0,264.5L962.6,264.5L963.4,269.0L960.9,272.0L960.9,275.5L962.3,277.0L965.4,277.9L968.0,280.8L966.3,281.4L963.7,279.3L961.5,278.2L958.0,278.5L958.0,276.4L956.6,275.5L955.8,271.1L957.5,270.5ZM-66.0,264.5L-61.4,264.5L-60.6,269.0L-63.1,272.0L-63.1,275.5L-61.7,277.0L-58.6,277.9L-56.0,280.8L-57.7,281.4L-60.3,279.3L-62.5,278.2L-66.0,278.5L-66.0,276.4L-67.4,275.5L-68.2,271.1L-66.5,270.5ZM1982.0,264.5L1986.6,264.5L1987.4,269.0L1984.9,272.0L1984.9,275.5L1986.3,277.0L1989.4,277.9L1992.0,280.8L1990.3,281.4L1987.7,279.3L1985.5,278.2L1982.0,278.5L1982.0,276.4L1980.6,275.5L1979.8,271.1L1981.5,270.5ZM962.0,298.1L962.6,295.3L966.9,293.5L969.7,292.7L972.0,290.1L975.1,297.3L974.0,300.1L971.7,302.1L968.3,300.4L966.3,296.1ZM-62.0,298.1L-61.4,295.3L-57.1,293.5L-54.3,292.7L-52.0,290.1L-48.9,297.3L-50.0,300.1L-52.3,302.1L-55.7,300.4L-57.7,296.1ZM1986.0,298.1L1986.6,295.3L1990.9,293.5L1993.7,292.7L1996.0,290.1L1999.1,297.3L1998.0,300.1L1995.7,302.1L1992.3,300.4L1990.3,296.1ZM957.2,279.3L959.7,279.6L960.6,282.0L959.5,282.8L957.8,282.3ZM-66.8,279.3L-64.3,279.6L-63.4,282.0L-64.5,282.8L-66.2,282.3ZM1981.2,279.3L1983.7,279.6L1984.6,282.0L1983.5,282.8L1981.8,282.3ZM968.6,282.3L971.4,282.3L972.5,286.0L970.6,286.6L969.1,284.9ZM-55.4,282.3L-52.6,282.3L-51.5,286.0L-53.4,286.6L-54.9,284.9ZM1992.6,282.3L1995.4,282.3L1996.5,286.0L1994.6,286.6L1993.1,284.9ZM968.6,285.2L970.6,285.7L970.8,288.9L970.0,289.5L968.6,287.2ZM-55.4,285.2L-53.4,285.7L-53.2,288.9L-54.0,289.5L-55.4,287.2ZM1992.6,285.2L1994.6,285.7L1994.8,288.9L1994.0,289.5L1992.6,287.2ZM961.7,284.0L963.7,284.3L965.2,286.3L963.4,287.8L961.7,287.2ZM-62.3,284.0L-60.3,284.3L-58.8,286.3L-60.6,287.8L-62.3,287.2ZM1985.7,284.0L1987.7,284.3L1989.2,286.3L1987.4,287.8L1985.7,287.2ZM964.6,286.9L966.3,287.5L965.4,291.8L963.7,290.7L963.2,288.1ZM-59.4,286.9L-57.7,287.5L-58.6,291.8L-60.3,290.7L-60.8,288.1ZM1988.6,286.9L1990.3,287.5L1989.4,291.8L1987.7,290.7L1987.2,288.1ZM967.1,286.0L968.0,287.2L966.3,290.7L965.7,288.9ZM-56.9,286.0L-56.0,287.2L-57.7,290.7L-58.3,288.9ZM1991.1,286.0L1992.0,287.2L1990.3,290.7L1989.7,288.9ZM948.4,294.1L951.8,291.5L954.9,288.1L954.3,285.7L952.6,288.9L949.5,291.8ZM-75.6,294.1L-72.2,291.5L-69.1,288.1L-69.7,285.7L-71.4,288.9L-74.5,291.8ZM1972.4,294.1L1975.8,291.5L1978.9,288.1L1978.3,285.7L1976.6,288.9L1973.5,291.8ZM886.1,302.1L892.3,303.3L895.7,307.0L900.9,312.1L903.7,313.3L909.7,318.1L910.3,320.9L912.2,323.5L915.9,326.6L916.5,334.6L913.7,334.6L912.2,334.9L906.0,329.5L902.3,325.2L900.3,320.4L897.2,316.7L895.7,313.3L892.3,310.7L888.9,306.1ZM-137.9,302.1L-131.7,303.3L-128.3,307.0L-123.1,312.1L-120.3,313.3L-114.3,318.1L-113.7,320.9L-111.8,323.5L-108.1,326.6L-107.5,334.6L-110.3,334.6L-111.8,334.9L-118.0,329.5L-121.7,325.2L-123.7,320.4L-126.8,316.7L-128.3,313.3L-131.7,310.7L-135.1,306.1ZM1910.1,302.1L1916.3,303.3L1919.7,307.0L1924.9,312.1L1927.7,313.3L1933.7,318.1L1934.3,320.9L1936.2,323.5L1939.9,326.6L1940.5,334.6L1937.7,334.6L1936.2,334.9L1930.0,329.5L1926.3,325.2L1924.3,320.4L1921.2,316.7L1919.7,313.3L1916.3,310.7L1912.9,306.1ZM914.2,337.5L916.8,334.9L923.1,336.1L929.0,337.8L932.2,336.9L935.3,337.8L940.4,340.1L940.7,342.9L936.4,342.1L929.3,341.2L923.6,340.4L917.9,339.2ZM-109.8,337.5L-107.2,334.9L-100.9,336.1L-95.0,337.8L-91.8,336.9L-88.7,337.8L-83.6,340.1L-83.3,342.9L-87.6,342.1L-94.7,341.2L-100.4,340.4L-106.1,339.2ZM1938.2,337.5L1940.8,334.9L1947.1,336.1L1953.0,337.8L1956.2,336.9L1959.3,337.8L1964.4,340.1L1964.7,342.9L1960.4,342.1L1953.3,341.2L1947.6,340.4L1941.9,339.2ZM926.8,312.4L925.0,316.7L926.5,320.9L928.5,326.4L932.2,326.6L936.4,327.2L940.7,328.9L945.0,328.1L946.4,323.8L946.4,320.9L949.2,316.7L950.1,315.3L952.9,315.3L950.4,312.7L950.6,310.1L949.5,307.9L951.5,305.6L954.1,303.3L950.4,300.7L947.8,298.1L945.2,300.1L943.5,303.3L940.1,305.6L936.4,309.0L932.2,311.0L930.7,313.3ZM-97.2,312.4L-99.0,316.7L-97.5,320.9L-95.5,326.4L-91.8,326.6L-87.6,327.2L-83.3,328.9L-79.0,328.1L-77.6,323.8L-77.6,320.9L-74.8,316.7L-73.9,315.3L-71.1,315.3L-73.6,312.7L-73.4,310.1L-74.5,307.9L-72.5,305.6L-69.9,303.3L-73.6,300.7L-76.2,298.1L-78.8,300.1L-80.5,303.3L-83.9,305.6L-87.6,309.0L-91.8,311.0L-93.3,313.3ZM1950.8,312.4L1949.0,316.7L1950.5,320.9L1952.5,326.4L1956.2,326.6L1960.4,327.2L1964.7,328.9L1969.0,328.1L1970.4,323.8L1970.4,320.9L1973.2,316.7L1974.1,315.3L1976.9,315.3L1974.4,312.7L1974.6,310.1L1973.5,307.9L1975.5,305.6L1978.1,303.3L1974.4,300.7L1971.8,298.1L1969.2,300.1L1967.5,303.3L1964.1,305.6L1960.4,309.0L1956.2,311.0L1954.7,313.3ZM952.9,326.1L954.6,333.8L957.5,334.1L957.5,326.6L960.0,331.8L964.6,331.8L962.3,326.4L960.3,323.2L965.7,320.4L961.5,320.7L958.0,317.2L958.9,314.4L963.4,315.3L968.6,314.7L971.1,313.5L969.4,316.7L962.0,316.7L956.6,316.4L955.8,318.7L954.6,322.4ZM-71.1,326.1L-69.4,333.8L-66.5,334.1L-66.5,326.6L-64.0,331.8L-59.4,331.8L-61.7,326.4L-63.7,323.2L-58.3,320.4L-62.5,320.7L-66.0,317.2L-65.1,314.4L-60.6,315.3L-55.4,314.7L-52.9,313.5L-54.6,316.7L-62.0,316.7L-67.4,316.4L-68.2,318.7L-69.4,322.4ZM1976.9,326.1L1978.6,333.8L1981.5,334.1L1981.5,326.6L1984.0,331.8L1988.6,331.8L1986.3,326.4L1984.3,323.2L1989.7,320.4L1985.5,320.7L1982.0,317.2L1982.9,314.4L1987.4,315.3L1992.6,314.7L1995.1,313.5L1993.4,316.7L1986.0,316.7L1980.6,316.4L1979.8,318.7L1978.6,322.4ZM987.6,321.8L991.9,319.2L996.2,320.7L999.0,327.5L1004.7,322.4L1009.0,322.9L1016.1,325.5L1026.0,328.9L1029.7,333.2L1034.6,335.5L1035.7,337.5L1031.7,340.4L1034.6,342.4L1037.4,343.8L1042.2,347.6L1038.8,347.6L1033.4,347.0L1030.3,341.5L1025.2,340.1L1022.6,342.1L1021.8,344.4L1016.1,344.1L1013.2,341.5L1009.8,341.8L1007.5,338.1L1009.5,337.2L1007.0,333.2L1000.1,330.6L994.7,328.9L992.7,329.8L990.5,326.1L994.7,325.2L990.2,322.7ZM-36.4,321.8L-32.1,319.2L-27.8,320.7L-25.0,327.5L-19.3,322.4L-15.0,322.9L-7.9,325.5L2.0,328.9L5.7,333.2L10.6,335.5L11.7,337.5L7.7,340.4L10.6,342.4L13.4,343.8L18.2,347.6L14.8,347.6L9.4,347.0L6.3,341.5L1.2,340.1L-1.4,342.1L-2.2,344.4L-7.9,344.1L-10.8,341.5L-14.2,341.8L-16.5,338.1L-14.5,337.2L-17.0,333.2L-23.9,330.6L-29.3,328.9L-31.3,329.8L-33.5,326.1L-29.3,325.2L-33.8,322.7ZM2011.6,321.8L2015.9,319.2L2020.2,320.7L2023.0,327.5L2028.7,322.4L2033.0,322.9L2040.1,325.5L2050.0,328.9L2053.7,333.2L2058.6,335.5L2059.7,337.5L2055.7,340.4L2058.6,342.4L2061.4,343.8L2066.2,347.6L2062.8,347.6L2057.4,347.0L2054.3,341.5L2049.2,340.1L2046.6,342.1L2045.8,344.4L2040.1,344.1L2037.2,341.5L2033.8,341.8L2031.5,338.1L2033.5,337.2L2031.0,333.2L2024.1,330.6L2018.7,328.9L2016.7,329.8L2014.5,326.1L2018.7,325.2L2014.2,322.7ZM977.7,313.0L979.1,311.8L981.1,315.3L979.7,316.7L981.4,319.0L979.1,320.4L977.7,317.5L978.5,315.3ZM-46.3,313.0L-44.9,311.8L-42.9,315.3L-44.3,316.7L-42.6,319.0L-44.9,320.4L-46.3,317.5L-45.5,315.3ZM2001.7,313.0L2003.1,311.8L2005.1,315.3L2003.7,316.7L2005.4,319.0L2003.1,320.4L2001.7,317.5L2002.5,315.3ZM979.1,327.5L987.1,328.1L984.8,329.2L980.5,328.3ZM-44.9,327.5L-36.9,328.1L-39.2,329.2L-43.5,328.3ZM2003.1,327.5L2011.1,328.1L2008.8,329.2L2004.5,328.3ZM973.4,326.9L976.8,327.2L976.2,328.9L973.7,328.3ZM-50.6,326.9L-47.2,327.2L-47.8,328.9L-50.3,328.3ZM1997.4,326.9L2000.8,327.2L2000.2,328.9L1997.7,328.3ZM940.4,341.2L944.1,342.1L942.7,343.2L940.7,342.1ZM-83.6,341.2L-79.9,342.1L-81.3,343.2L-83.3,342.1ZM1964.4,341.2L1968.1,342.1L1966.7,343.2L1964.7,342.1ZM944.7,341.8L946.9,341.8L946.1,343.5L944.7,343.2ZM-79.3,341.8L-77.1,341.8L-77.9,343.5L-79.3,343.2ZM1968.7,341.8L1970.9,341.8L1970.1,343.5L1968.7,343.2ZM947.2,342.4L950.6,341.2L953.8,342.1L952.6,343.2L948.1,343.8ZM-76.8,342.4L-73.4,341.2L-70.2,342.1L-71.4,343.2L-75.9,343.8ZM1971.2,342.4L1974.6,341.2L1977.8,342.1L1976.6,343.2L1972.1,343.8ZM955.8,342.4L960.6,342.1L964.6,341.5L963.2,342.9L957.8,343.2ZM-68.2,342.4L-63.4,342.1L-59.4,341.5L-60.8,342.9L-66.2,343.2ZM1979.8,342.4L1984.6,342.1L1988.6,341.5L1987.2,342.9L1981.8,343.2ZM953.5,345.2L956.9,344.7L958.6,347.3L954.9,346.1ZM-70.5,345.2L-67.1,344.7L-65.4,347.3L-69.1,346.1ZM1977.5,345.2L1980.9,344.7L1982.6,347.3L1978.9,346.1ZM966.3,347.6L969.1,344.7L972.8,342.7L977.1,342.1L973.4,344.7L969.1,347.3ZM-57.7,347.6L-54.9,344.7L-51.2,342.7L-46.9,342.1L-50.6,344.7L-54.9,347.3ZM1990.3,347.6L1993.1,344.7L1996.8,342.7L2001.1,342.1L1997.4,344.7L1993.1,347.3ZM1041.7,333.8L1045.9,330.1L1048.5,330.3L1047.4,333.8L1043.1,336.1L1037.4,334.1ZM17.7,333.8L21.9,330.1L24.5,330.3L23.4,333.8L19.1,336.1L13.4,334.1ZM2065.7,333.8L2069.9,330.1L2072.5,330.3L2071.4,333.8L2067.1,336.1L2061.4,334.1ZM1044.5,326.6L1048.8,328.1L1050.2,330.9L1047.9,328.9ZM20.5,326.6L24.8,328.1L26.2,330.9L23.9,328.9ZM2068.5,326.6L2072.8,328.1L2074.2,330.9L2071.9,328.9ZM1055.9,335.2L1058.2,336.6L1057.6,338.1L1055.3,336.1ZM31.9,335.2L34.2,336.6L33.6,338.1L31.3,336.1ZM2079.9,335.2L2082.2,336.6L2081.6,338.1L2079.3,336.1ZM1061.6,339.5L1068.7,342.4L1071.5,346.1L1064.4,342.7ZM37.6,339.5L44.7,342.4L47.5,346.1L40.4,342.7ZM2085.6,339.5L2092.7,342.4L2095.5,346.1L2088.4,342.7ZM1088.6,361.3L1090.6,362.7L1090.0,365.1L1088.9,363.6ZM64.6,361.3L66.6,362.7L66.0,365.1L64.9,363.6ZM2112.6,361.3L2114.6,362.7L2114.0,365.1L2112.9,363.6ZM1081.5,376.8L1085.8,379.2L1090.0,383.2L1087.7,383.2L1082.3,378.6ZM57.5,376.8L61.8,379.2L66.0,383.2L63.7,383.2L58.3,378.6ZM2105.5,376.8L2109.8,379.2L2114.0,383.2L2111.7,383.2L2106.3,378.6ZM1119.3,368.7L1123.0,369.3L1122.2,371.1L1119.0,370.5ZM95.3,368.7L99.0,369.3L98.2,371.1L95.0,370.5ZM2143.3,368.7L2147.0,369.3L2146.2,371.1L2143.0,370.5ZM755.2,352.5L758.4,362.1L756.1,367.5L753.0,376.2L750.1,390.0L748.7,391.9L743.6,393.2L740.2,391.0L739.3,385.4L738.2,381.7L741.3,375.6L741.0,367.2L746.4,363.3L750.1,360.7L751.5,356.9ZM-268.8,352.5L-265.6,362.1L-267.9,367.5L-271.0,376.2L-273.9,390.0L-275.3,391.9L-280.4,393.2L-283.8,391.0L-284.7,385.4L-285.8,381.7L-282.7,375.6L-283.0,367.2L-277.6,363.3L-273.9,360.7L-272.5,356.9ZM1779.2,352.5L1782.4,362.1L1780.1,367.5L1777.0,376.2L1774.1,390.0L1772.7,391.9L1767.6,393.2L1764.2,391.0L1763.3,385.4L1762.2,381.7L1765.3,375.6L1765.0,367.2L1770.4,363.3L1774.1,360.7L1775.5,356.9ZM1026.3,445.0L1031.7,446.6L1036.8,445.8L1036.8,450.7L1033.1,456.2L1030.3,456.2L1028.0,450.7ZM2.3,445.0L7.7,446.6L12.8,445.8L12.8,450.7L9.1,456.2L6.3,456.2L4.0,450.7ZM2050.3,445.0L2055.7,446.6L2060.8,445.8L2060.8,450.7L2057.1,456.2L2054.3,456.2L2052.0,450.7ZM1106.2,422.4L1108.5,425.2L1111.6,428.7L1115.1,430.8L1118.5,433.7L1122.7,434.0L1121.0,439.5L1117.9,441.0L1115.6,447.3L1112.2,447.3L1113.1,442.4L1109.4,439.8L1111.6,435.1L1111.1,431.5L1107.4,425.2ZM82.2,422.4L84.5,425.2L87.6,428.7L91.1,430.8L94.5,433.7L98.7,434.0L97.0,439.5L93.9,441.0L91.6,447.3L88.2,447.3L89.1,442.4L85.4,439.8L87.6,435.1L87.1,431.5L83.4,425.2ZM2130.2,422.4L2132.5,425.2L2135.6,428.7L2139.1,430.8L2142.5,433.7L2146.7,434.0L2145.0,439.5L2141.9,441.0L2139.6,447.3L2136.2,447.3L2137.1,442.4L2133.4,439.8L2135.6,435.1L2135.1,431.5L2131.4,425.2ZM1106.2,444.3L1110.8,446.2L1109.9,450.0L1107.1,453.8L1106.2,457.0L1102.0,459.7L1100.0,465.8L1094.0,468.3L1088.6,465.8L1092.9,457.8L1100.0,453.4L1103.1,448.8ZM82.2,444.3L86.8,446.2L85.9,450.0L83.1,453.8L82.2,457.0L78.0,459.7L76.0,465.8L70.0,468.3L64.6,465.8L68.9,457.8L76.0,453.4L79.1,448.8ZM2130.2,444.3L2134.8,446.2L2133.9,450.0L2131.1,453.8L2130.2,457.0L2126.0,459.7L2124.0,465.8L2118.0,468.3L2112.6,465.8L2116.9,457.8L2124.0,453.4L2127.1,448.8Z" fill="#efeeeb" stroke="#dddcd8" stroke-width="0.6" stroke-linejoin="round"/>
<path d="M490.4,104.6L485.6,101.2L479.0,98.9L474.2,94.1L471.4,86.8L468.2,78.5L464.8,69.2L462.3,62.2L462.8,52.7L467.1,46.5L469.9,41.8L462.8,41.0L459.1,35.3L461.4,27.6L457.1,21.4L455.7,12.2L451.4,-1.7L448.6,-15.7L444.3,-29.7L421.6,-42.3L472.8,-63.3L558.1,-63.3L561.0,-33.4L562.4,-12.3L556.7,-1.7L553.8,13.1L551.0,22.3L552.4,32.8L545.3,39.4L538.2,47.3L529.7,49.6L522.6,51.2L516.9,62.2L511.2,67.1L505.5,69.2L501.2,73.9L498.9,81.1L496.1,88.7L493.8,95.9L491.8,102.3ZM-533.6,104.6L-538.4,101.2L-545.0,98.9L-549.8,94.1L-552.6,86.8L-555.8,78.5L-559.2,69.2L-561.7,62.2L-561.2,52.7L-556.9,46.5L-554.1,41.8L-561.2,41.0L-564.9,35.3L-562.6,27.6L-566.9,21.4L-568.3,12.2L-572.6,-1.7L-575.4,-15.7L-579.7,-29.7L-602.4,-42.3L-551.2,-63.3L-465.9,-63.3L-463.0,-33.4L-461.6,-12.3L-467.3,-1.7L-470.2,13.1L-473.0,22.3L-471.6,32.8L-478.7,39.4L-485.8,47.3L-494.3,49.6L-501.4,51.2L-507.1,62.2L-512.8,67.1L-518.5,69.2L-522.8,73.9L-525.1,81.1L-527.9,88.7L-530.2,95.9L-532.2,102.3ZM1514.4,104.6L1509.6,101.2L1503.0,98.9L1498.2,94.1L1495.4,86.8L1492.2,78.5L1488.8,69.2L1486.3,62.2L1486.8,52.7L1491.1,46.5L1493.9,41.8L1486.8,41.0L1483.1,35.3L1485.4,27.6L1481.1,21.4L1479.7,12.2L1475.4,-1.7L1472.6,-15.7L1468.3,-29.7L1445.6,-42.3L1496.8,-63.3L1582.1,-63.3L1585.0,-33.4L1586.4,-12.3L1580.7,-1.7L1577.8,13.1L1575.0,22.3L1576.4,32.8L1569.3,39.4L1562.2,47.3L1553.7,49.6L1546.6,51.2L1540.9,62.2L1535.2,67.1L1529.5,69.2L1525.2,73.9L1522.9,81.1L1520.1,88.7L1517.8,95.9L1515.8,102.3Z" fill="#f7f7f6" stroke="#e2e2e0" stroke-width="0.6"/>
<path d="M694.6,187.8L697.2,188.9L700.0,189.5L704.0,189.6L707.4,187.0L710.3,186.2L714.0,186.2L716.0,187.4L718.8,188.9L721.7,189.6L724.5,190.2L728.2,190.0L731.6,189.6L733.3,187.8L733.3,184.3L729.6,182.0L725.9,178.4L723.1,176.9L721.1,175.3L718.8,173.7L716.0,174.5L713.1,176.1L710.3,176.5L707.4,172.8L710.6,170.4L706.0,168.3L704.6,167.9L702.3,168.8L700.9,171.2L699.5,173.2L699.2,175.3L696.9,176.9L696.4,180.4L694.6,182.4L694.4,185.1ZM-329.4,187.8L-326.8,188.9L-324.0,189.5L-320.0,189.6L-316.6,187.0L-313.7,186.2L-310.0,186.2L-308.0,187.4L-305.2,188.9L-302.3,189.6L-299.5,190.2L-295.8,190.0L-292.4,189.6L-290.7,187.8L-290.7,184.3L-294.4,182.0L-298.1,178.4L-300.9,176.9L-302.9,175.3L-305.2,173.7L-308.0,174.5L-310.9,176.1L-313.7,176.5L-316.6,172.8L-313.4,170.4L-318.0,168.3L-319.4,167.9L-321.7,168.8L-323.1,171.2L-324.5,173.2L-324.8,175.3L-327.1,176.9L-327.6,180.4L-329.4,182.4L-329.6,185.1ZM1718.6,187.8L1721.2,188.9L1724.0,189.5L1728.0,189.6L1731.4,187.0L1734.3,186.2L1738.0,186.2L1740.0,187.4L1742.8,188.9L1745.7,189.6L1748.5,190.2L1752.2,190.0L1755.6,189.6L1757.3,187.8L1757.3,184.3L1753.6,182.0L1749.9,178.4L1747.1,176.9L1745.1,175.3L1742.8,173.7L1740.0,174.5L1737.1,176.1L1734.3,176.5L1731.4,172.8L1734.6,170.4L1730.0,168.3L1728.6,167.9L1726.3,168.8L1724.9,171.2L1723.5,173.2L1723.2,175.3L1720.9,176.9L1720.4,180.4L1718.6,182.4L1718.4,185.1ZM715.1,171.2L719.1,172.8L721.7,171.2L723.9,167.9L726.5,165.4L723.7,165.9L720.2,166.7L716.0,168.8L714.3,170.4ZM-308.9,171.2L-304.9,172.8L-302.3,171.2L-300.1,167.9L-297.5,165.4L-300.3,165.9L-303.8,166.7L-308.0,168.8L-309.7,170.4ZM1739.1,171.2L1743.1,172.8L1745.7,171.2L1747.9,167.9L1750.5,165.4L1747.7,165.9L1744.2,166.7L1740.0,168.8L1738.3,170.4ZM754.4,167.9L760.1,166.3L765.8,167.1L766.0,172.4L761.5,173.7L760.9,176.5L758.1,177.3L761.5,181.6L764.9,186.2L765.5,190.0L765.8,191.5L767.2,195.6L768.3,199.3L768.3,203.6L765.8,205.0L761.5,205.7L757.8,203.2L754.4,202.5L753.8,199.3L755.2,195.2L756.1,192.6L758.1,192.3L755.8,191.2L753.2,187.0L750.1,182.8L750.1,178.8L748.1,176.5L749.3,172.4L751.5,170.4ZM-269.6,167.9L-263.9,166.3L-258.2,167.1L-258.0,172.4L-262.5,173.7L-263.1,176.5L-265.9,177.3L-262.5,181.6L-259.1,186.2L-258.5,190.0L-258.2,191.5L-256.8,195.6L-255.7,199.3L-255.7,203.6L-258.2,205.0L-262.5,205.7L-266.2,203.2L-269.6,202.5L-270.2,199.3L-268.8,195.2L-267.9,192.6L-265.9,192.3L-268.2,191.2L-270.8,187.0L-273.9,182.8L-273.9,178.8L-275.9,176.5L-274.7,172.4L-272.5,170.4ZM1778.4,167.9L1784.1,166.3L1789.8,167.1L1790.0,172.4L1785.5,173.7L1784.9,176.5L1782.1,177.3L1785.5,181.6L1788.9,186.2L1789.5,190.0L1789.8,191.5L1791.2,195.6L1792.3,199.3L1792.3,203.6L1789.8,205.0L1785.5,205.7L1781.8,203.2L1778.4,202.5L1777.8,199.3L1779.2,195.2L1780.1,192.6L1782.1,192.3L1779.8,191.2L1777.2,187.0L1774.1,182.8L1774.1,178.8L1772.1,176.5L1773.3,172.4L1775.5,170.4ZM910.0,145.7L913.1,146.6L917.9,141.6L923.6,136.8L927.0,127.0L925.6,126.0L921.1,134.9L915.4,140.6L911.4,144.3ZM-114.0,145.7L-110.9,146.6L-106.1,141.6L-100.4,136.8L-97.0,127.0L-98.4,126.0L-102.9,134.9L-108.6,140.6L-112.6,144.3ZM1934.0,145.7L1937.1,146.6L1941.9,141.6L1947.6,136.8L1951.0,127.0L1949.6,126.0L1945.1,134.9L1939.4,140.6L1935.4,144.3ZM824.1,168.3L828.3,167.1L834.0,167.9L840.3,169.2L839.1,170.4L833.5,169.6L826.9,170.8ZM-199.9,168.3L-195.7,167.1L-190.0,167.9L-183.7,169.2L-184.9,170.4L-190.5,169.6L-197.1,170.8ZM1848.1,168.3L1852.3,167.1L1858.0,167.9L1864.3,169.2L1863.1,170.4L1857.5,169.6L1850.9,170.8ZM353.0,167.5L357.6,167.9L363.3,166.3L367.5,168.3L373.2,167.1L374.4,168.3L373.8,164.6L370.4,159.1L363.8,158.2L360.1,162.1L356.2,165.0ZM-671.0,167.5L-666.4,167.9L-660.7,166.3L-656.5,168.3L-650.8,167.1L-649.6,168.3L-650.2,164.6L-653.6,159.1L-660.2,158.2L-663.9,162.1L-667.8,165.0ZM1377.0,167.5L1381.6,167.9L1387.3,166.3L1391.5,168.3L1397.2,167.1L1398.4,168.3L1397.8,164.6L1394.4,159.1L1387.8,158.2L1384.1,162.1L1380.2,165.0ZM365.3,187.8L368.1,187.0L369.8,183.1L369.0,178.4L371.5,174.5L373.2,171.2L369.0,170.8L365.8,174.1L365.3,178.4L365.0,182.8ZM-658.7,187.8L-655.9,187.0L-654.2,183.1L-655.0,178.4L-652.5,174.5L-650.8,171.2L-655.0,170.8L-658.2,174.1L-658.7,178.4L-659.0,182.8ZM1389.3,187.8L1392.1,187.0L1393.8,183.1L1393.0,178.4L1395.5,174.5L1397.2,171.2L1393.0,170.8L1389.8,174.1L1389.3,178.4L1389.0,182.8ZM374.4,170.8L377.5,170.4L383.2,170.8L386.6,173.2L387.4,176.1L383.5,175.3L382.6,178.4L380.6,182.4L379.2,178.8L377.5,178.4L378.1,174.5ZM-649.6,170.8L-646.5,170.4L-640.8,170.8L-637.4,173.2L-636.6,176.1L-640.5,175.3L-641.4,178.4L-643.4,182.4L-644.8,178.8L-646.5,178.4L-645.9,174.5ZM1398.4,170.8L1401.5,170.4L1407.2,170.8L1410.6,173.2L1411.4,176.1L1407.5,175.3L1406.6,178.4L1404.6,182.4L1403.2,178.8L1401.5,178.4L1402.1,174.5ZM377.8,187.4L383.2,187.8L388.0,185.5L390.6,182.8L386.0,183.9L380.3,186.2ZM-646.2,187.4L-640.8,187.8L-636.0,185.5L-633.4,182.8L-638.0,183.9L-643.7,186.2ZM1401.8,187.4L1407.2,187.8L1412.0,185.5L1414.6,182.8L1410.0,183.9L1404.3,186.2ZM388.0,181.2L393.1,180.8L398.0,180.4L398.0,177.7L394.6,178.4L389.2,179.6ZM-636.0,181.2L-630.9,180.8L-626.0,180.4L-626.0,177.7L-629.4,178.4L-634.8,179.6ZM1412.0,181.2L1417.1,180.8L1422.0,180.4L1422.0,177.7L1418.6,178.4L1413.2,179.6ZM339.1,151.6L341.1,146.6L337.7,137.3L334.0,135.9L336.2,144.3ZM-684.9,151.6L-682.9,146.6L-686.3,137.3L-690.0,135.9L-687.8,144.3ZM1363.1,151.6L1365.1,146.6L1361.7,137.3L1358.0,135.9L1360.2,144.3ZM282.2,97.7L290.7,93.5L300.7,87.4L295.0,90.5L285.0,95.3ZM-741.8,97.7L-733.3,93.5L-723.3,87.4L-729.0,90.5L-739.0,95.3ZM1306.2,97.7L1314.7,93.5L1324.7,87.4L1319.0,90.5L1309.0,95.3ZM259.4,69.2L272.2,60.0L277.9,64.3L270.8,72.6L265.1,73.9ZM-764.6,69.2L-751.8,60.0L-746.1,64.3L-753.2,72.6L-758.9,73.9ZM1283.4,69.2L1296.2,60.0L1301.9,64.3L1294.8,72.6L1289.1,73.9ZM317.8,111.8L323.4,106.3L313.5,106.3ZM-706.2,111.8L-700.6,106.3L-710.5,106.3ZM1341.8,111.8L1347.4,106.3L1337.5,106.3ZM705.5,320.9L708.9,318.7L712.0,319.0L711.7,322.4L710.0,325.2L706.0,325.2L704.9,322.4ZM-318.5,320.9L-315.1,318.7L-312.0,319.0L-312.3,322.4L-314.0,325.2L-318.0,325.2L-319.1,322.4ZM1729.5,320.9L1732.9,318.7L1736.0,319.0L1735.7,322.4L1734.0,325.2L1730.0,325.2L1728.9,322.4ZM698.1,328.1L699.5,330.9L701.8,336.6L703.7,342.4L702.6,342.9L699.8,337.5L697.8,332.3ZM-325.9,328.1L-324.5,330.9L-322.2,336.6L-320.3,342.4L-321.4,342.9L-324.2,337.5L-326.2,332.3ZM1722.1,328.1L1723.5,330.9L1725.8,336.6L1727.7,342.4L1726.6,342.9L1723.8,337.5L1721.8,332.3ZM712.6,345.2L714.0,349.6L714.6,355.4L715.4,359.2L713.4,357.7L712.3,351.0L711.4,346.7ZM-311.4,345.2L-310.0,349.6L-309.4,355.4L-308.6,359.2L-310.6,357.7L-311.7,351.0L-312.6,346.7ZM1736.6,345.2L1738.0,349.6L1738.6,355.4L1739.4,359.2L1737.4,357.7L1736.3,351.0L1735.4,346.7Z" fill="#aec7f3"/>
<path d="M264.3,157.8L344.2,157.8L344.2,156.0L345.9,159.1L350.5,159.5L354.7,161.6L360.1,162.1M380.3,173.2L380.6,182.4L378.6,185.8L378.3,186.6L390.3,181.2M390.3,181.2L397.4,177.7L402.5,174.5L411.6,174.5L413.9,172.8L418.2,164.6L420.7,165.0L422.1,165.9L422.1,171.6L424.1,174.1M213.9,38.6L213.9,101.8L219.6,103.5L223.9,108.0L229.6,104.6L235.3,111.8L241.0,122.4L245.2,125.5L245.2,131.5M281.9,220.3L288.7,219.6L299.3,224.3L307.2,224.3L312.1,222.6L317.8,229.9L322.0,231.8L326.6,229.2L332.0,236.7L338.5,241.8M610.2,211.4L609.9,221.6L600.8,228.6L590.3,232.8L590.3,236.0L578.0,236.0M590.3,237.3L601.3,244.6L596.5,247.7L580.9,256.1L566.6,257.0M601.3,244.6L626.4,261.5L626.9,270.5L599.4,273.5L582.3,273.5L580.3,275.8L567.5,282.8M642.0,227.9L643.4,244.6L649.1,249.3L626.4,261.5M649.1,249.3L659.1,250.8L659.7,261.5L653.7,278.8L656.2,282.3L649.1,296.7L639.5,304.7M686.1,223.3L686.1,253.9L720.0,253.9M659.1,250.8L683.3,261.5L677.6,280.8L681.8,292.4L693.2,303.9L703.7,307.6L711.7,305.0L716.8,305.0L731.6,306.7L731.6,322.7M683.3,261.5L686.1,253.9M718.8,277.0L712.6,289.5L708.9,295.3L711.7,305.0M731.6,306.7L743.0,303.9L751.5,295.3L737.3,285.7M649.7,335.2L660.5,335.2L664.8,340.9L677.6,349.6L683.3,349.6L698.9,352.5L696.1,342.4L699.2,330.9L698.9,321.8L702.6,314.4L703.7,307.6M693.2,303.9L683.3,303.9L669.0,306.7L667.6,312.4L665.6,320.9L660.5,325.2L649.1,332.3M648.6,368.1L671.9,368.7L681.3,370.2L687.0,369.6L697.5,382.9L706.0,382.3M661.9,403.1L671.9,402.7L671.9,382.3L674.7,370.2M671.9,391.0L686.1,393.2L697.5,382.9M729.9,348.1L713.4,351.0L708.9,345.2L701.8,341.8M726.5,331.2L711.4,320.9M677.6,349.6L677.6,355.4L683.3,368.7M642.0,315.3L647.1,315.3L647.1,311.8L660.5,311.8L657.7,295.3L677.6,286.6M622.7,300.1L623.0,283.7L617.6,279.3L614.7,286.3L606.8,291.0L592.2,288.6L590.8,296.7M606.8,291.0L607.6,303.9M592.2,288.6L582.6,282.6M405.9,338.9L414.5,345.2L425.8,346.4L429.3,351.9L440.1,356.9L444.3,362.7L449.2,365.1L451.2,376.2L456.3,383.2L459.7,393.2L462.5,397.9L451.2,408.3L462.8,420.0M405.9,338.9L415.9,330.1L417.3,320.9L424.4,313.0L433.0,305.9L442.9,303.9L444.3,312.4L454.3,312.7L461.4,311.6L467.9,305.9M417.3,368.7L419.3,383.8L424.4,385.4L420.2,397.9L415.9,407.6L414.5,421.0L412.5,435.1L410.8,450.0L410.2,465.8M419.3,383.8L436.9,382.9L451.2,393.2L448.6,398.9L456.3,399.5M436.9,382.9L439.2,375.0L449.2,376.2M417.3,368.7L418.7,361.9L419.3,349.6M386.6,327.8L391.7,332.3L401.1,318.7L407.4,325.2L415.9,330.1M390.6,313.8L396.0,316.7L401.1,318.7M409.6,284.0L408.8,292.4L410.2,298.1L422.1,300.4L423.0,312.4M442.9,293.8L441.5,303.9L442.9,303.9M452.3,301.0L450.0,313.8M461.4,301.6L461.4,311.6M609.9,180.8L617.0,183.1L624.1,184.7M589.7,186.2L596.5,187.0L595.1,195.6L593.7,204.0M622.1,148.5L626.9,153.4L632.4,155.6L638.3,157.8L636.6,163.8L632.1,169.6L634.9,172.4L636.3,179.2M632.4,155.6L632.1,149.8L634.6,144.3L634.9,138.2M625.2,147.1L632.1,149.8M655.4,135.4L656.5,142.0L657.7,148.9L649.7,152.1L654.3,158.6L651.7,164.2L642.3,164.2L636.6,163.8M670.8,132.7L681.8,135.4L681.8,144.3L683.3,151.2L679.3,157.3L668.5,155.6L657.7,148.9M632.1,169.6L644.9,167.1L650.6,167.5L654.0,168.3L654.0,172.0M654.3,158.6L663.4,159.5L663.4,162.9L661.9,168.3L654.0,168.3M661.9,168.3L669.0,170.8L679.0,177.7L680.1,181.6L678.7,188.9L673.6,190.0M679.3,157.3L680.1,162.1L690.4,161.2L695.2,168.3L695.2,172.4L699.5,173.2M680.1,162.1L679.6,162.5L674.7,169.6L669.0,170.8M679.0,177.7L696.1,179.6M678.7,188.9L689.8,187.4L694.6,186.2M694.6,106.3L694.1,118.2L695.2,124.5L704.6,126.5L708.0,139.7L714.6,143.4L723.9,153.4L728.8,155.1L723.7,165.4M681.8,135.4L690.4,126.5L695.2,124.5M675.0,125.0L687.5,123.9L695.2,124.5M676.4,117.7L687.5,115.1L693.2,117.2M681.8,144.3L708.0,144.3M694.6,100.6L701.8,92.9L698.9,79.2L700.3,54.9L696.6,45.8L697.5,37.7M646.6,108.5L650.3,94.7L649.7,82.4L656.2,72.6L660.5,52.7L672.7,43.4L674.7,43.4M684.7,67.1L682.1,53.4L674.7,43.4L686.1,46.5L696.6,37.7M750.1,168.3L753.0,159.9L748.7,154.7L760.1,146.6L771.4,150.7L788.5,148.9L789.9,134.9L801.3,132.5L812.7,128.5L825.5,137.3L832.6,134.9L836.9,139.7L842.6,148.9L852.5,148.9L862.5,157.3M862.5,157.3L868.2,151.6L876.7,150.3L893.8,144.3L905.1,147.6L919.4,152.1L940.7,152.5L946.4,154.3M946.4,154.3L956.3,142.0L970.6,138.7L977.7,155.1L986.8,158.2L998.1,160.8L993.6,174.5L988.5,174.9L987.6,183.1L986.8,185.1M862.5,157.3L873.8,170.4L888.1,183.5L913.7,187.8L932.2,182.4L945.0,174.5L955.8,168.3L946.4,154.3M862.5,157.3L858.2,166.3L849.7,172.4L842.6,185.5L831.2,191.9L824.1,195.6L828.3,204.7L836.3,210.0M836.3,210.0L841.1,220.3L845.4,228.6L853.9,234.1L865.3,235.4L876.7,235.7L886.6,234.4L891.8,235.1L895.2,244.6L892.3,247.7L898.0,253.6L902.9,256.1L906.6,251.8L918.5,251.5L922.2,255.2M765.8,186.2L774.3,188.9L781.4,172.0L788.5,177.3L802.7,182.8L809.8,191.5L815.5,190.0L824.1,195.6M768.3,203.6L777.1,200.4L788.5,206.1L792.8,210.7L798.5,204.3L807.9,204.0L817.0,201.4L826.9,204.3M753.0,228.9L750.7,225.3L747.3,218.6L744.4,210.7L742.4,204.0L740.7,196.0M790.2,244.0L793.6,234.4L788.2,229.2L789.1,223.9L787.1,216.2L789.1,209.6M717.1,208.6L720.2,205.7L735.6,204.3L742.4,204.0M718.8,230.2L725.9,221.9L734.5,224.6L750.1,231.8M737.9,269.6L748.7,269.0L762.9,263.0L773.4,260.0L772.0,251.8L761.8,246.2M792.8,230.5L804.2,223.6L811.8,225.3L814.1,216.2L817.0,210.0L824.1,205.0L826.9,204.3M809.3,248.7L814.1,246.2L817.0,236.7L825.5,226.9L828.3,220.3L836.3,210.0M866.7,254.8L868.2,240.5L878.1,244.6L877.5,255.5M891.8,235.1L883.8,244.6L880.1,252.4L877.5,255.5M906.6,251.8L910.8,261.5L920.8,274.9L916.5,285.2M906.6,282.3L915.1,277.0L915.9,272.0L902.3,266.6L902.9,256.1M895.2,289.5L897.2,280.8L894.3,274.9L893.2,264.5L902.9,256.1M968.3,194.1L979.1,186.2L986.8,185.1M974.0,200.0L980.2,199.3" fill="none" stroke="#a3a3a3" stroke-width="0.7" stroke-linejoin="round"/>
<text x="282.5" y="138.8" font-size="11.4" font-weight="700" fill="#1a1a1a" text-anchor="start" style="paint-order:stroke;stroke:#fff;stroke-width:2.5px;stroke-linejoin:round;">NORTH AMERICA</text><text x="663.0" y="151.0" font-size="11.4" font-weight="700" fill="#1a1a1a" text-anchor="start" style="paint-order:stroke;stroke:#fff;stroke-width:2.5px;stroke-linejoin:round;">EUROPE</text><text x="900.0" y="130.5" font-size="11.4" font-weight="700" fill="#1a1a1a" text-anchor="start" style="paint-order:stroke;stroke:#fff;stroke-width:2.5px;stroke-linejoin:round;">ASIA</text><text x="667.0" y="302.5" font-size="11.4" font-weight="700" fill="#1a1a1a" text-anchor="start" style="paint-order:stroke;stroke:#fff;stroke-width:2.5px;stroke-linejoin:round;">AFRICA</text><text x="423.0" y="367.0" font-size="11.2" font-weight="700" fill="#1a1a1a" text-anchor="start" style="paint-order:stroke;stroke:#fff;stroke-width:2.5px;stroke-linejoin:round;">SOUTH AMERICA</text><text x="983.0" y="384.5" font-size="11.4" font-weight="700" fill="#1a1a1a" text-anchor="start" style="paint-order:stroke;stroke:#fff;stroke-width:2.5px;stroke-linejoin:round;">AUSTRALIA</text>
<text x="143.0" y="218.5" font-size="12" font-weight="400" fill="#4464b8" text-anchor="middle" style="">Pacific</text><text x="144.0" y="231.1" font-size="12" font-weight="400" fill="#4464b8" text-anchor="middle" style="">Ocean</text><text x="496.0" y="225.0" font-size="12" font-weight="400" fill="#4464b8" text-anchor="middle" style="">Atlantic</text><text x="497.0" y="237.6" font-size="12" font-weight="400" fill="#4464b8" text-anchor="middle" style="">Ocean</text><text x="837.5" y="379.0" font-size="12" font-weight="400" fill="#4464b8" text-anchor="middle" style="">Indian</text><text x="838.5" y="391.6" font-size="12" font-weight="400" fill="#4464b8" text-anchor="middle" style="">Ocean</text>
</svg></div>
<div class="abs" style="left:2170px;top:806px;width:79px;height:50px;background:rgba(255,255,255,.85)"></div>
<svg class="abs" style="left:2176px;top:823px" width="15" height="16"><rect x="0.75" y="0.75" width="13" height="13.5" fill="#f3f3f3" stroke="#333" stroke-width="1.3"/><path d="M3 3l9 10" stroke="#e58a8a" stroke-width="1"/><path d="M2 9l5-6" stroke="#9ab" stroke-width="1"/></svg>
<div class="t" style="left:2202px;top:823.5px;font-size:13px;line-height:16px;color:#333;font-weight:400;">Road</div>
<svg class="abs" style="left:2210px;top:881px" width="38" height="150">
 <g fill="#fff" stroke="#1a1a1a" stroke-width="1.8"><circle cx="19" cy="18.8" r="16.3"/><circle cx="19" cy="74.8" r="16.3"/><circle cx="19" cy="131" r="16.3"/></g>
 <circle cx="19" cy="18.8" r="8.5" fill="none" stroke="#1a1a1a" stroke-width="1.8"/><circle cx="19" cy="18.8" r="4.6" fill="#1a1a1a"/>
 <path d="M10 74.8h18M19 65.8v18M10 131h18" stroke="#1a1a1a" stroke-width="1.9"/>
</svg>
<svg class="abs" style="left:1532px;top:1026.5px" width="28" height="28"><circle cx="14" cy="14" r="11.2" fill="rgba(255,190,200,.55)" stroke="#c7252e" stroke-width="1.3"/><circle cx="14" cy="14" r="7.8" fill="#f20a0a"/><text x="14" y="18.1" font-size="12" font-weight="700" fill="#fff" text-anchor="middle" style="font-family:'Liberation Sans', Arial, Helvetica, sans-serif">1</text></svg>
</body></html>
